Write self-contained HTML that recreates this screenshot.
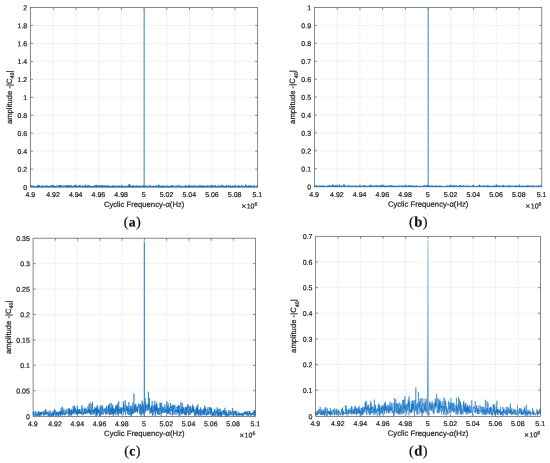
<!DOCTYPE html>
<html><head><meta charset="utf-8"><title>Figure</title>
<style>
html,body{margin:0;padding:0;background:#fff;}
body{width:550px;height:463px;overflow:hidden;}
svg{display:block;text-rendering:geometricPrecision;}
.t{font-family:"Liberation Sans",Arial,Helvetica,sans-serif;font-size:7.0px;fill:#262626;stroke:#262626;stroke-width:0.22px;}
.l{font-size:7.7px;}
.c{font-family:"Liberation Serif","Times New Roman",serif;font-size:14.4px;fill:#111;stroke:#111;stroke-width:0.2px;}
</style></head><body>
<svg width="550" height="463" viewBox="0 0 550 463">
<rect width="550" height="463" fill="#fff"/>
<g>
<line x1="53.30" y1="7.50" x2="53.30" y2="187.20" stroke="#ececec" stroke-width="0.7"/>
<line x1="76.01" y1="7.50" x2="76.01" y2="187.20" stroke="#ececec" stroke-width="0.7"/>
<line x1="98.72" y1="7.50" x2="98.72" y2="187.20" stroke="#ececec" stroke-width="0.7"/>
<line x1="121.42" y1="7.50" x2="121.42" y2="187.20" stroke="#ececec" stroke-width="0.7"/>
<line x1="144.12" y1="7.50" x2="144.12" y2="187.20" stroke="#ececec" stroke-width="0.7"/>
<line x1="166.83" y1="7.50" x2="166.83" y2="187.20" stroke="#ececec" stroke-width="0.7"/>
<line x1="189.53" y1="7.50" x2="189.53" y2="187.20" stroke="#ececec" stroke-width="0.7"/>
<line x1="212.24" y1="7.50" x2="212.24" y2="187.20" stroke="#ececec" stroke-width="0.7"/>
<line x1="234.94" y1="7.50" x2="234.94" y2="187.20" stroke="#ececec" stroke-width="0.7"/>
<line x1="30.60" y1="169.14" x2="257.65" y2="169.14" stroke="#ececec" stroke-width="0.7"/>
<line x1="30.60" y1="151.18" x2="257.65" y2="151.18" stroke="#ececec" stroke-width="0.7"/>
<line x1="30.60" y1="133.22" x2="257.65" y2="133.22" stroke="#ececec" stroke-width="0.7"/>
<line x1="30.60" y1="115.26" x2="257.65" y2="115.26" stroke="#ececec" stroke-width="0.7"/>
<line x1="30.60" y1="97.30" x2="257.65" y2="97.30" stroke="#ececec" stroke-width="0.7"/>
<line x1="30.60" y1="79.34" x2="257.65" y2="79.34" stroke="#ececec" stroke-width="0.7"/>
<line x1="30.60" y1="61.38" x2="257.65" y2="61.38" stroke="#ececec" stroke-width="0.7"/>
<line x1="30.60" y1="43.42" x2="257.65" y2="43.42" stroke="#ececec" stroke-width="0.7"/>
<line x1="30.60" y1="25.46" x2="257.65" y2="25.46" stroke="#ececec" stroke-width="0.7"/>
<rect x="30.60" y="7.50" width="227.05" height="179.70" fill="none" stroke="#606060" stroke-width="0.75"/>
<text class="t" x="30.30" y="197.00" transform="rotate(0.05 30.30 197.00)" text-anchor="middle">4.9</text>
<line x1="53.30" y1="187.20" x2="53.30" y2="184.70" stroke="#606060" stroke-width="0.7"/>
<line x1="53.30" y1="7.50" x2="53.30" y2="10.00" stroke="#606060" stroke-width="0.7"/>
<text class="t" x="53.01" y="197.00" transform="rotate(0.05 53.01 197.00)" text-anchor="middle">4.92</text>
<line x1="76.01" y1="187.20" x2="76.01" y2="184.70" stroke="#606060" stroke-width="0.7"/>
<line x1="76.01" y1="7.50" x2="76.01" y2="10.00" stroke="#606060" stroke-width="0.7"/>
<text class="t" x="75.71" y="197.00" transform="rotate(0.05 75.71 197.00)" text-anchor="middle">4.94</text>
<line x1="98.72" y1="187.20" x2="98.72" y2="184.70" stroke="#606060" stroke-width="0.7"/>
<line x1="98.72" y1="7.50" x2="98.72" y2="10.00" stroke="#606060" stroke-width="0.7"/>
<text class="t" x="98.42" y="197.00" transform="rotate(0.05 98.42 197.00)" text-anchor="middle">4.96</text>
<line x1="121.42" y1="187.20" x2="121.42" y2="184.70" stroke="#606060" stroke-width="0.7"/>
<line x1="121.42" y1="7.50" x2="121.42" y2="10.00" stroke="#606060" stroke-width="0.7"/>
<text class="t" x="121.12" y="197.00" transform="rotate(0.05 121.12 197.00)" text-anchor="middle">4.98</text>
<line x1="144.12" y1="187.20" x2="144.12" y2="184.70" stroke="#606060" stroke-width="0.7"/>
<line x1="144.12" y1="7.50" x2="144.12" y2="10.00" stroke="#606060" stroke-width="0.7"/>
<text class="t" x="143.82" y="197.00" transform="rotate(0.05 143.82 197.00)" text-anchor="middle">5</text>
<line x1="166.83" y1="187.20" x2="166.83" y2="184.70" stroke="#606060" stroke-width="0.7"/>
<line x1="166.83" y1="7.50" x2="166.83" y2="10.00" stroke="#606060" stroke-width="0.7"/>
<text class="t" x="166.53" y="197.00" transform="rotate(0.05 166.53 197.00)" text-anchor="middle">5.02</text>
<line x1="189.53" y1="187.20" x2="189.53" y2="184.70" stroke="#606060" stroke-width="0.7"/>
<line x1="189.53" y1="7.50" x2="189.53" y2="10.00" stroke="#606060" stroke-width="0.7"/>
<text class="t" x="189.23" y="197.00" transform="rotate(0.05 189.23 197.00)" text-anchor="middle">5.04</text>
<line x1="212.24" y1="187.20" x2="212.24" y2="184.70" stroke="#606060" stroke-width="0.7"/>
<line x1="212.24" y1="7.50" x2="212.24" y2="10.00" stroke="#606060" stroke-width="0.7"/>
<text class="t" x="211.94" y="197.00" transform="rotate(0.05 211.94 197.00)" text-anchor="middle">5.06</text>
<line x1="234.94" y1="187.20" x2="234.94" y2="184.70" stroke="#606060" stroke-width="0.7"/>
<line x1="234.94" y1="7.50" x2="234.94" y2="10.00" stroke="#606060" stroke-width="0.7"/>
<text class="t" x="234.64" y="197.00" transform="rotate(0.05 234.64 197.00)" text-anchor="middle">5.08</text>
<text class="t" x="257.35" y="197.00" transform="rotate(0.05 257.35 197.00)" text-anchor="middle">5.1</text>
<text class="t" x="27.25" y="189.95" transform="rotate(0.05 27.25 189.95)" text-anchor="end">0</text>
<line x1="30.60" y1="169.14" x2="33.10" y2="169.14" stroke="#606060" stroke-width="0.7"/>
<line x1="257.65" y1="169.14" x2="255.15" y2="169.14" stroke="#606060" stroke-width="0.7"/>
<text class="t" x="27.25" y="171.89" transform="rotate(0.05 27.25 171.89)" text-anchor="end">0.2</text>
<line x1="30.60" y1="151.18" x2="33.10" y2="151.18" stroke="#606060" stroke-width="0.7"/>
<line x1="257.65" y1="151.18" x2="255.15" y2="151.18" stroke="#606060" stroke-width="0.7"/>
<text class="t" x="27.25" y="153.93" transform="rotate(0.05 27.25 153.93)" text-anchor="end">0.4</text>
<line x1="30.60" y1="133.22" x2="33.10" y2="133.22" stroke="#606060" stroke-width="0.7"/>
<line x1="257.65" y1="133.22" x2="255.15" y2="133.22" stroke="#606060" stroke-width="0.7"/>
<text class="t" x="27.25" y="135.97" transform="rotate(0.05 27.25 135.97)" text-anchor="end">0.6</text>
<line x1="30.60" y1="115.26" x2="33.10" y2="115.26" stroke="#606060" stroke-width="0.7"/>
<line x1="257.65" y1="115.26" x2="255.15" y2="115.26" stroke="#606060" stroke-width="0.7"/>
<text class="t" x="27.25" y="118.01" transform="rotate(0.05 27.25 118.01)" text-anchor="end">0.8</text>
<line x1="30.60" y1="97.30" x2="33.10" y2="97.30" stroke="#606060" stroke-width="0.7"/>
<line x1="257.65" y1="97.30" x2="255.15" y2="97.30" stroke="#606060" stroke-width="0.7"/>
<text class="t" x="27.25" y="100.05" transform="rotate(0.05 27.25 100.05)" text-anchor="end">1</text>
<line x1="30.60" y1="79.34" x2="33.10" y2="79.34" stroke="#606060" stroke-width="0.7"/>
<line x1="257.65" y1="79.34" x2="255.15" y2="79.34" stroke="#606060" stroke-width="0.7"/>
<text class="t" x="27.25" y="82.09" transform="rotate(0.05 27.25 82.09)" text-anchor="end">1.2</text>
<line x1="30.60" y1="61.38" x2="33.10" y2="61.38" stroke="#606060" stroke-width="0.7"/>
<line x1="257.65" y1="61.38" x2="255.15" y2="61.38" stroke="#606060" stroke-width="0.7"/>
<text class="t" x="27.25" y="64.13" transform="rotate(0.05 27.25 64.13)" text-anchor="end">1.4</text>
<line x1="30.60" y1="43.42" x2="33.10" y2="43.42" stroke="#606060" stroke-width="0.7"/>
<line x1="257.65" y1="43.42" x2="255.15" y2="43.42" stroke="#606060" stroke-width="0.7"/>
<text class="t" x="27.25" y="46.17" transform="rotate(0.05 27.25 46.17)" text-anchor="end">1.6</text>
<line x1="30.60" y1="25.46" x2="33.10" y2="25.46" stroke="#606060" stroke-width="0.7"/>
<line x1="257.65" y1="25.46" x2="255.15" y2="25.46" stroke="#606060" stroke-width="0.7"/>
<text class="t" x="27.25" y="28.21" transform="rotate(0.05 27.25 28.21)" text-anchor="end">1.8</text>
<text class="t" x="27.25" y="10.25" transform="rotate(0.05 27.25 10.25)" text-anchor="end">2</text>
<polyline fill="none" stroke="#0d6cc0" stroke-width="0.80" stroke-linejoin="round" points="30.60,185.63 30.77,186.14 30.95,187.02 31.12,186.26 31.30,185.85 31.47,186.11 31.65,185.59 31.82,186.47 32.00,186.18 32.17,186.76 32.35,185.68 32.52,185.91 32.70,186.91 32.87,187.07 33.05,186.13 33.22,186.78 33.40,186.67 33.57,186.71 33.75,186.73 33.92,186.44 34.10,186.74 34.27,185.83 34.45,186.08 34.62,186.35 34.79,185.92 34.97,186.90 35.14,186.96 35.32,186.68 35.49,186.99 35.67,186.49 35.84,187.08 36.02,187.16 36.19,186.63 36.37,186.85 36.54,187.07 36.72,186.86 36.89,186.68 37.07,186.74 37.24,185.78 37.42,186.39 37.59,187.02 37.77,187.11 37.94,187.06 38.12,184.85 38.29,186.58 38.47,186.23 38.64,186.54 38.82,185.42 38.99,186.81 39.16,186.03 39.34,186.01 39.51,187.07 39.69,185.58 39.86,186.99 40.04,186.38 40.21,186.13 40.39,186.06 40.56,186.23 40.74,186.57 40.91,186.17 41.09,186.96 41.26,186.04 41.44,186.55 41.61,186.65 41.79,186.53 41.96,186.59 42.14,186.13 42.31,185.86 42.49,185.35 42.66,186.26 42.84,186.63 43.01,187.22 43.18,186.59 43.36,185.86 43.53,186.04 43.71,185.99 43.88,186.66 44.06,186.27 44.23,186.64 44.41,186.38 44.58,186.97 44.76,186.70 44.93,185.75 45.11,186.57 45.28,186.63 45.46,186.65 45.63,186.81 45.81,185.81 45.98,186.68 46.16,186.11 46.33,185.86 46.51,186.15 46.68,186.90 46.86,185.55 47.03,185.35 47.20,186.43 47.38,186.40 47.55,186.64 47.73,186.86 47.90,186.41 48.08,187.14 48.25,185.82 48.43,186.59 48.60,186.48 48.78,186.59 48.95,186.78 49.13,186.35 49.30,186.29 49.48,186.98 49.65,186.87 49.83,186.56 50.00,186.38 50.18,186.16 50.35,186.64 50.53,185.70 50.70,186.67 50.88,186.55 51.05,185.53 51.23,185.44 51.40,186.37 51.57,186.30 51.75,186.93 51.92,185.93 52.10,185.38 52.27,186.37 52.45,186.04 52.62,185.21 52.80,186.49 52.97,186.86 53.15,186.31 53.32,186.37 53.50,186.89 53.67,186.81 53.85,186.51 54.02,186.19 54.20,187.22 54.37,186.02 54.55,186.80 54.72,186.00 54.90,186.55 55.07,185.85 55.25,186.90 55.42,186.25 55.59,186.33 55.77,186.34 55.94,185.77 56.12,186.49 56.29,186.46 56.47,186.47 56.64,186.35 56.82,186.69 56.99,186.06 57.17,186.19 57.34,185.42 57.52,186.60 57.69,186.34 57.87,186.31 58.04,186.24 58.22,186.87 58.39,186.42 58.57,186.40 58.74,186.82 58.92,186.49 59.09,185.17 59.27,186.44 59.44,186.39 59.61,185.56 59.79,186.69 59.96,185.18 60.14,185.33 60.31,186.60 60.49,186.23 60.66,185.17 60.84,186.38 61.01,186.52 61.19,187.04 61.36,185.64 61.54,186.79 61.71,185.86 61.89,186.73 62.06,186.80 62.24,186.62 62.41,186.38 62.59,186.02 62.76,186.93 62.94,186.41 63.11,186.49 63.29,186.36 63.46,186.40 63.63,185.24 63.81,185.69 63.98,185.80 64.16,185.61 64.33,186.14 64.51,186.14 64.68,186.60 64.86,186.38 65.03,186.60 65.21,185.71 65.38,185.85 65.56,186.41 65.73,186.32 65.91,187.12 66.08,185.17 66.26,186.64 66.43,186.34 66.61,186.55 66.78,186.32 66.96,186.93 67.13,185.41 67.31,187.08 67.48,186.68 67.66,186.14 67.83,187.26 68.00,186.79 68.18,186.30 68.35,185.70 68.53,186.98 68.70,185.48 68.88,186.78 69.05,185.79 69.23,186.38 69.40,185.75 69.58,186.75 69.75,186.84 69.93,185.23 70.10,186.98 70.28,186.54 70.45,186.85 70.63,186.69 70.80,186.32 70.98,185.65 71.15,185.34 71.33,185.28 71.50,186.95 71.68,186.86 71.85,186.78 72.02,187.23 72.20,186.04 72.37,185.87 72.55,186.52 72.72,186.50 72.90,186.83 73.07,186.51 73.25,186.92 73.42,186.20 73.60,186.48 73.77,186.92 73.95,185.68 74.12,186.37 74.30,186.26 74.47,186.53 74.65,185.73 74.82,185.51 75.00,186.61 75.17,186.97 75.35,184.89 75.52,186.21 75.70,185.54 75.87,187.01 76.04,186.80 76.22,186.17 76.39,186.32 76.57,186.98 76.74,186.46 76.92,186.08 77.09,186.17 77.27,186.58 77.44,186.68 77.62,186.05 77.79,185.56 77.97,185.85 78.14,186.28 78.32,186.22 78.49,186.36 78.67,187.00 78.84,186.58 79.02,185.69 79.19,187.06 79.37,185.95 79.54,186.67 79.72,185.64 79.89,186.82 80.07,185.00 80.24,186.48 80.41,186.71 80.59,186.53 80.76,186.57 80.94,186.45 81.11,186.71 81.29,186.20 81.46,186.93 81.64,186.07 81.81,186.66 81.99,186.12 82.16,186.06 82.34,186.27 82.51,186.22 82.69,186.38 82.86,186.50 83.04,185.49 83.21,186.37 83.39,186.81 83.56,186.87 83.74,186.69 83.91,185.71 84.09,186.12 84.26,187.11 84.43,186.38 84.61,186.95 84.78,185.92 84.96,186.52 85.13,185.78 85.31,187.12 85.48,184.73 85.66,185.70 85.83,185.39 86.01,186.60 86.18,187.13 86.36,187.02 86.53,186.95 86.71,186.57 86.88,186.44 87.06,186.56 87.23,186.47 87.41,185.57 87.58,187.18 87.76,185.78 87.93,186.41 88.11,185.94 88.28,186.23 88.45,186.10 88.63,187.03 88.80,184.96 88.98,185.83 89.15,186.90 89.33,186.30 89.50,186.40 89.68,185.99 89.85,186.18 90.03,186.88 90.20,185.84 90.38,186.65 90.55,186.31 90.73,186.02 90.90,186.26 91.08,186.74 91.25,186.89 91.43,186.27 91.60,186.66 91.78,185.99 91.95,186.04 92.13,186.33 92.30,186.20 92.48,186.99 92.65,186.57 92.82,186.55 93.00,186.80 93.17,186.35 93.35,187.22 93.52,186.54 93.70,186.24 93.87,186.06 94.05,186.49 94.22,186.94 94.40,185.82 94.57,186.41 94.75,185.46 94.92,185.93 95.10,186.61 95.27,186.86 95.45,186.76 95.62,186.25 95.80,186.18 95.97,185.12 96.15,186.52 96.32,184.85 96.50,187.17 96.67,185.96 96.84,185.77 97.02,186.16 97.19,186.78 97.37,186.02 97.54,186.31 97.72,185.71 97.89,187.02 98.07,186.50 98.24,186.84 98.42,186.06 98.59,186.95 98.77,186.15 98.94,185.59 99.12,185.83 99.29,186.39 99.47,186.88 99.64,186.34 99.82,186.03 99.99,185.84 100.17,186.49 100.34,185.43 100.52,186.31 100.69,186.68 100.86,186.65 101.04,186.04 101.21,186.95 101.39,186.42 101.56,185.84 101.74,187.09 101.91,185.29 102.09,185.53 102.26,186.93 102.44,185.23 102.61,185.71 102.79,185.73 102.96,186.05 103.14,186.16 103.31,187.18 103.49,186.10 103.66,186.67 103.84,185.74 104.01,187.05 104.19,185.78 104.36,186.85 104.54,186.16 104.71,185.49 104.89,186.10 105.06,186.50 105.23,186.49 105.41,186.31 105.58,187.18 105.76,185.91 105.93,185.95 106.11,185.86 106.28,186.88 106.46,186.12 106.63,186.64 106.81,186.42 106.98,186.20 107.16,186.24 107.33,185.05 107.51,186.56 107.68,185.94 107.86,186.85 108.03,185.99 108.21,186.95 108.38,186.47 108.56,187.11 108.73,186.00 108.91,185.80 109.08,185.81 109.25,186.65 109.43,185.80 109.60,186.07 109.78,187.07 109.95,186.08 110.13,186.56 110.30,186.74 110.48,186.08 110.65,187.28 110.83,186.36 111.00,186.69 111.18,186.96 111.35,186.17 111.53,186.39 111.70,186.64 111.88,186.57 112.05,186.11 112.23,185.59 112.40,185.94 112.58,187.01 112.75,186.24 112.93,186.89 113.10,187.03 113.27,185.60 113.45,187.14 113.62,187.11 113.80,185.89 113.97,186.73 114.15,186.09 114.32,186.66 114.50,185.85 114.67,186.93 114.85,186.72 115.02,186.33 115.20,185.91 115.37,186.39 115.55,186.06 115.72,185.71 115.90,185.74 116.07,187.06 116.25,186.59 116.42,186.43 116.60,186.70 116.77,186.35 116.95,186.62 117.12,186.72 117.29,185.66 117.47,185.56 117.64,186.68 117.82,186.10 117.99,186.14 118.17,186.21 118.34,187.16 118.52,186.08 118.69,187.04 118.87,186.45 119.04,186.83 119.22,185.92 119.39,186.39 119.57,186.14 119.74,185.61 119.92,186.76 120.09,186.66 120.27,186.86 120.44,186.38 120.62,186.47 120.79,186.97 120.97,186.39 121.14,186.21 121.32,185.79 121.49,185.87 121.66,187.21 121.84,186.54 122.01,185.57 122.19,185.77 122.36,186.03 122.54,185.95 122.71,187.13 122.89,186.44 123.06,185.95 123.24,185.80 123.41,187.09 123.59,186.56 123.76,186.60 123.94,186.86 124.11,187.06 124.29,186.16 124.46,186.77 124.64,186.29 124.81,186.12 124.99,187.15 125.16,187.10 125.34,186.63 125.51,186.15 125.68,186.17 125.86,186.06 126.03,186.89 126.21,185.94 126.38,185.99 126.56,186.51 126.73,186.89 126.91,186.67 127.08,186.13 127.26,186.46 127.43,186.99 127.61,186.13 127.78,185.90 127.96,185.54 128.13,187.04 128.31,186.49 128.48,186.05 128.66,186.97 128.83,184.83 129.01,186.31 129.18,186.60 129.36,184.00 129.53,186.24 129.70,186.78 129.88,186.69 130.05,186.84 130.23,186.76 130.40,186.45 130.58,186.58 130.75,185.34 130.93,186.75 131.10,186.46 131.28,186.07 131.45,186.29 131.63,187.01 131.80,186.13 131.98,186.24 132.15,187.24 132.33,186.68 132.50,186.24 132.68,185.92 132.85,186.77 133.03,185.43 133.20,187.18 133.38,186.78 133.55,185.90 133.73,187.28 133.90,186.78 134.07,186.54 134.25,185.67 134.42,185.89 134.60,185.91 134.77,186.29 134.95,186.15 135.12,186.53 135.30,185.95 135.47,186.60 135.65,185.90 135.82,186.94 136.00,186.99 136.17,186.60 136.35,187.00 136.52,186.42 136.70,186.47 136.87,186.48 137.05,185.10 137.22,186.30 137.40,186.16 137.57,186.36 137.75,187.07 137.92,186.19 138.09,186.97 138.27,186.04 138.44,186.60 138.62,186.33 138.79,187.10 138.97,186.52 139.14,186.00 139.32,185.93 139.49,186.92 139.67,186.21 139.84,186.64 140.02,185.63 140.19,186.78 140.37,186.36 140.54,186.64 140.72,186.11 140.89,186.40 141.07,186.48 141.24,187.04 141.42,186.44 141.59,186.39 141.77,186.88 141.94,186.14 142.11,186.95 142.29,186.86 142.46,185.70 142.64,185.84 142.81,185.78 142.99,186.15 143.16,186.94 143.34,186.33 143.51,186.06 143.69,186.70 143.86,185.56 144.04,187.00 144.21,187.00 144.39,186.24 144.56,185.80 144.74,186.05 144.91,186.52 145.09,186.39 145.26,186.00 145.44,185.91 145.61,186.99 145.79,186.76 145.96,186.88 146.14,185.57 146.31,185.93 146.48,186.79 146.66,186.13 146.83,187.00 147.01,187.11 147.18,185.90 147.36,186.52 147.53,186.65 147.71,186.29 147.88,186.50 148.06,186.59 148.23,186.30 148.41,185.87 148.58,186.05 148.76,186.25 148.93,186.33 149.11,186.79 149.28,186.49 149.46,186.62 149.63,185.81 149.81,186.41 149.98,184.93 150.16,185.58 150.33,186.49 150.50,186.29 150.68,186.47 150.85,186.06 151.03,186.64 151.20,186.94 151.38,186.60 151.55,186.97 151.73,186.23 151.90,186.92 152.08,186.96 152.25,186.15 152.43,185.92 152.60,186.71 152.78,186.36 152.95,186.95 153.13,186.06 153.30,186.83 153.48,185.86 153.65,185.93 153.83,186.71 154.00,186.74 154.18,186.01 154.35,186.93 154.52,186.50 154.70,186.62 154.87,186.15 155.05,186.22 155.22,186.81 155.40,186.66 155.57,185.87 155.75,186.29 155.92,185.60 156.10,186.59 156.27,186.96 156.45,185.87 156.62,186.13 156.80,185.84 156.97,186.86 157.15,185.88 157.32,186.66 157.50,186.79 157.67,186.60 157.85,186.21 158.02,186.10 158.20,186.22 158.37,186.40 158.55,184.62 158.72,186.77 158.89,186.21 159.07,186.98 159.24,186.40 159.42,186.42 159.59,185.62 159.77,186.88 159.94,186.55 160.12,186.05 160.29,186.42 160.47,186.67 160.64,186.32 160.82,187.20 160.99,186.54 161.17,186.39 161.34,185.92 161.52,187.12 161.69,185.86 161.87,186.90 162.04,185.89 162.22,186.42 162.39,186.44 162.57,187.13 162.74,186.28 162.91,187.20 163.09,186.93 163.26,186.76 163.44,185.50 163.61,186.69 163.79,186.60 163.96,185.63 164.14,186.46 164.31,186.10 164.49,186.31 164.66,186.71 164.84,186.20 165.01,186.43 165.19,186.20 165.36,186.23 165.54,186.25 165.71,186.80 165.89,186.19 166.06,186.53 166.24,186.86 166.41,187.03 166.59,186.16 166.76,186.15 166.93,185.96 167.11,186.40 167.28,186.62 167.46,186.00 167.63,186.08 167.81,186.07 167.98,187.13 168.16,186.72 168.33,187.21 168.51,185.95 168.68,186.28 168.86,186.39 169.03,186.61 169.21,186.47 169.38,186.13 169.56,186.84 169.73,186.14 169.91,185.88 170.08,186.39 170.26,187.07 170.43,186.29 170.61,186.11 170.78,186.65 170.96,186.17 171.13,186.61 171.30,186.98 171.48,186.77 171.65,185.29 171.83,186.07 172.00,185.69 172.18,187.07 172.35,186.90 172.53,186.78 172.70,186.76 172.88,185.28 173.05,186.61 173.23,186.12 173.40,186.28 173.58,185.93 173.75,186.84 173.93,186.63 174.10,186.13 174.28,186.67 174.45,186.91 174.63,186.62 174.80,186.60 174.98,186.50 175.15,186.56 175.32,186.43 175.50,186.55 175.67,185.59 175.85,186.39 176.02,186.57 176.20,186.78 176.37,186.83 176.55,186.27 176.72,185.81 176.90,186.73 177.07,186.44 177.25,186.32 177.42,185.71 177.60,185.61 177.77,186.40 177.95,186.48 178.12,186.41 178.30,185.30 178.47,186.62 178.65,186.66 178.82,186.61 179.00,186.19 179.17,186.37 179.34,186.48 179.52,185.90 179.69,186.20 179.87,185.75 180.04,185.23 180.22,186.22 180.39,186.09 180.57,186.37 180.74,187.13 180.92,187.00 181.09,186.50 181.27,186.56 181.44,186.59 181.62,187.21 181.79,187.10 181.97,186.27 182.14,186.74 182.32,186.57 182.49,186.31 182.67,186.18 182.84,186.26 183.02,185.71 183.19,185.85 183.36,186.17 183.54,186.36 183.71,186.34 183.89,187.01 184.06,186.47 184.24,186.31 184.41,186.42 184.59,186.04 184.76,186.81 184.94,186.44 185.11,187.02 185.29,186.40 185.46,187.20 185.64,185.41 185.81,186.46 185.99,187.02 186.16,186.46 186.34,186.93 186.51,185.64 186.69,185.64 186.86,186.50 187.04,186.37 187.21,186.66 187.39,186.36 187.56,186.03 187.73,186.47 187.91,187.17 188.08,186.76 188.26,186.16 188.43,186.24 188.61,186.65 188.78,186.77 188.96,185.60 189.13,187.19 189.31,185.60 189.48,186.76 189.66,185.50 189.83,186.01 190.01,186.95 190.18,186.53 190.36,186.38 190.53,186.27 190.71,185.93 190.88,186.69 191.06,186.75 191.23,186.36 191.41,185.71 191.58,186.84 191.75,185.92 191.93,186.34 192.10,186.87 192.28,186.75 192.45,187.04 192.63,186.65 192.80,186.02 192.98,186.97 193.15,185.69 193.33,186.25 193.50,187.08 193.68,186.30 193.85,185.37 194.03,185.54 194.20,186.15 194.38,186.17 194.55,186.06 194.73,185.70 194.90,186.18 195.08,187.02 195.25,185.99 195.43,185.67 195.60,186.58 195.77,186.73 195.95,186.98 196.12,186.46 196.30,186.02 196.47,186.79 196.65,186.38 196.82,186.74 197.00,186.35 197.17,185.77 197.35,186.44 197.52,186.81 197.70,186.00 197.87,186.08 198.05,186.02 198.22,185.91 198.40,186.71 198.57,186.48 198.75,186.27 198.92,185.88 199.10,186.83 199.27,186.74 199.45,186.39 199.62,186.27 199.80,185.15 199.97,187.09 200.14,186.78 200.32,186.89 200.49,186.69 200.67,185.76 200.84,185.57 201.02,186.62 201.19,185.79 201.37,186.79 201.54,185.79 201.72,187.03 201.89,186.49 202.07,187.04 202.24,186.28 202.42,186.92 202.59,185.87 202.77,186.94 202.94,186.39 203.12,185.57 203.29,187.22 203.47,186.95 203.64,186.75 203.82,186.97 203.99,186.06 204.16,186.24 204.34,185.81 204.51,186.95 204.69,186.09 204.86,186.53 205.04,185.93 205.21,186.61 205.39,186.74 205.56,185.92 205.74,186.45 205.91,186.66 206.09,186.69 206.26,187.10 206.44,186.87 206.61,186.16 206.79,186.40 206.96,185.86 207.14,186.34 207.31,185.66 207.49,186.62 207.66,186.12 207.84,185.30 208.01,186.91 208.18,186.17 208.36,185.86 208.53,185.91 208.71,186.55 208.88,186.52 209.06,186.44 209.23,186.59 209.41,186.85 209.58,186.42 209.76,185.89 209.93,186.14 210.11,185.52 210.28,186.07 210.46,187.12 210.63,186.14 210.81,186.77 210.98,185.93 211.16,187.00 211.33,185.86 211.51,185.87 211.68,185.11 211.86,187.03 212.03,186.52 212.21,186.78 212.38,186.03 212.55,186.04 212.73,186.51 212.90,186.01 213.08,186.22 213.25,186.58 213.43,186.44 213.60,185.66 213.78,185.82 213.95,185.97 214.13,186.98 214.30,187.08 214.48,186.37 214.65,186.99 214.83,185.54 215.00,185.32 215.18,186.67 215.35,185.51 215.53,186.62 215.70,186.29 215.88,187.01 216.05,186.43 216.23,186.38 216.40,186.65 216.57,187.20 216.75,186.68 216.92,186.80 217.10,186.61 217.27,186.51 217.45,186.70 217.62,186.27 217.80,186.41 217.97,185.83 218.15,185.26 218.32,185.55 218.50,187.12 218.67,185.96 218.85,185.91 219.02,186.36 219.20,186.32 219.37,186.32 219.55,186.71 219.72,186.68 219.90,186.40 220.07,185.53 220.25,186.70 220.42,187.02 220.59,186.63 220.77,186.69 220.94,186.19 221.12,185.82 221.29,186.03 221.47,186.20 221.64,186.62 221.82,186.87 221.99,184.78 222.17,186.28 222.34,186.09 222.52,186.08 222.69,186.50 222.87,186.94 223.04,185.40 223.22,186.03 223.39,186.80 223.57,186.63 223.74,187.02 223.92,186.31 224.09,186.27 224.27,186.67 224.44,185.92 224.62,186.79 224.79,186.12 224.96,185.92 225.14,186.88 225.31,186.18 225.49,186.61 225.66,186.15 225.84,186.61 226.01,187.15 226.19,185.37 226.36,186.53 226.54,186.04 226.71,185.48 226.89,186.18 227.06,185.95 227.24,186.40 227.41,186.92 227.59,186.44 227.76,186.46 227.94,186.96 228.11,186.48 228.29,186.43 228.46,185.25 228.64,186.64 228.81,186.70 228.98,186.90 229.16,186.60 229.33,186.55 229.51,186.73 229.68,186.11 229.86,186.33 230.03,186.93 230.21,185.41 230.38,186.88 230.56,186.64 230.73,186.04 230.91,187.04 231.08,187.09 231.26,187.02 231.43,186.85 231.61,187.17 231.78,186.89 231.96,185.83 232.13,185.59 232.31,187.00 232.48,186.39 232.66,186.80 232.83,186.05 233.00,185.89 233.18,186.11 233.35,186.04 233.53,186.43 233.70,187.24 233.88,186.49 234.05,186.19 234.23,186.56 234.40,186.84 234.58,187.04 234.75,185.64 234.93,185.99 235.10,185.89 235.28,185.57 235.45,186.43 235.63,185.84 235.80,185.91 235.98,186.43 236.15,186.83 236.33,186.80 236.50,186.75 236.68,186.40 236.85,186.82 237.02,186.58 237.20,186.59 237.37,186.11 237.55,186.69 237.72,186.66 237.90,185.67 238.07,186.84 238.25,186.27 238.42,186.91 238.60,186.73 238.77,185.39 238.95,186.76 239.12,187.11 239.30,185.93 239.47,186.97 239.65,187.19 239.82,186.71 240.00,186.26 240.17,186.93 240.35,186.57 240.52,186.46 240.70,186.64 240.87,186.39 241.05,186.72 241.22,186.11 241.39,185.23 241.57,186.44 241.74,186.25 241.92,185.60 242.09,186.04 242.27,186.10 242.44,186.91 242.62,186.02 242.79,186.92 242.97,187.00 243.14,186.71 243.32,186.91 243.49,186.22 243.67,186.81 243.84,186.47 244.02,186.30 244.19,186.56 244.37,186.67 244.54,186.17 244.72,186.51 244.89,186.90 245.07,186.26 245.24,186.67 245.41,184.58 245.59,185.77 245.76,186.08 245.94,185.40 246.11,186.40 246.29,185.70 246.46,186.88 246.64,186.95 246.81,186.87 246.99,186.21 247.16,186.17 247.34,186.48 247.51,187.17 247.69,186.41 247.86,186.61 248.04,185.60 248.21,186.07 248.39,186.25 248.56,185.57 248.74,187.04 248.91,187.17 249.09,186.36 249.26,185.93 249.43,185.82 249.61,186.52 249.78,187.02 249.96,186.64 250.13,185.78 250.31,185.57 250.48,187.07 250.66,186.53 250.83,186.82 251.01,186.40 251.18,185.49 251.36,186.60 251.53,186.66 251.71,187.09 251.88,186.34 252.06,186.58 252.23,186.72 252.41,186.75 252.58,186.89 252.76,187.09 252.93,187.09 253.11,186.29 253.28,185.97 253.46,186.28 253.63,185.46 253.80,186.06 253.98,186.21 254.15,185.49 254.33,185.78 254.50,186.27 254.68,186.23 254.85,186.21 255.03,186.53 255.20,186.10 255.38,186.74 255.55,186.24 255.73,186.35 255.90,186.15 256.08,186.33 256.25,186.58 256.43,187.02 256.60,186.13 256.78,186.01 256.95,186.69 257.13,185.52 257.30,186.44 257.48,186.35 257.65,186.20"/>
<line x1="144.22" y1="186.10" x2="144.22" y2="7.50" stroke="#65a6dd" stroke-width="1.35"/>
<text class="t l" x="144.12" y="206.95" transform="rotate(0.05 144.12 206.95)" text-anchor="middle">Cyclic Frequency-α(Hz)</text>
<text class="t" x="257.35" y="208.45" transform="rotate(0.05 257.35 208.45)" text-anchor="end"><tspan font-size="7.9" dy="0.3">×</tspan><tspan dx="0.6" dy="-0.3">10</tspan><tspan dy="-2.6" font-size="5.2">6</tspan></text>
<text class="t l" transform="translate(11.70,97.30) rotate(-90)" text-anchor="middle">amplitude -|C<tspan dy="2.3" font-size="5.4">40</tspan><tspan dy="-2.5">|</tspan></text>
<text class="c" x="132.30" y="226.60" transform="rotate(0.05 132.30 226.60)" text-anchor="middle">(<tspan font-weight="bold" dx="0.2" font-size="13.9">a</tspan><tspan dx="0.2">)</tspan></text>
</g>
<g>
<line x1="337.19" y1="7.50" x2="337.19" y2="186.80" stroke="#ececec" stroke-width="0.7"/>
<line x1="359.92" y1="7.50" x2="359.92" y2="186.80" stroke="#ececec" stroke-width="0.7"/>
<line x1="382.65" y1="7.50" x2="382.65" y2="186.80" stroke="#ececec" stroke-width="0.7"/>
<line x1="405.39" y1="7.50" x2="405.39" y2="186.80" stroke="#ececec" stroke-width="0.7"/>
<line x1="428.12" y1="7.50" x2="428.12" y2="186.80" stroke="#ececec" stroke-width="0.7"/>
<line x1="450.86" y1="7.50" x2="450.86" y2="186.80" stroke="#ececec" stroke-width="0.7"/>
<line x1="473.59" y1="7.50" x2="473.59" y2="186.80" stroke="#ececec" stroke-width="0.7"/>
<line x1="496.33" y1="7.50" x2="496.33" y2="186.80" stroke="#ececec" stroke-width="0.7"/>
<line x1="519.06" y1="7.50" x2="519.06" y2="186.80" stroke="#ececec" stroke-width="0.7"/>
<line x1="314.45" y1="168.78" x2="541.80" y2="168.78" stroke="#ececec" stroke-width="0.7"/>
<line x1="314.45" y1="150.86" x2="541.80" y2="150.86" stroke="#ececec" stroke-width="0.7"/>
<line x1="314.45" y1="132.94" x2="541.80" y2="132.94" stroke="#ececec" stroke-width="0.7"/>
<line x1="314.45" y1="115.02" x2="541.80" y2="115.02" stroke="#ececec" stroke-width="0.7"/>
<line x1="314.45" y1="97.10" x2="541.80" y2="97.10" stroke="#ececec" stroke-width="0.7"/>
<line x1="314.45" y1="79.18" x2="541.80" y2="79.18" stroke="#ececec" stroke-width="0.7"/>
<line x1="314.45" y1="61.26" x2="541.80" y2="61.26" stroke="#ececec" stroke-width="0.7"/>
<line x1="314.45" y1="43.34" x2="541.80" y2="43.34" stroke="#ececec" stroke-width="0.7"/>
<line x1="314.45" y1="25.42" x2="541.80" y2="25.42" stroke="#ececec" stroke-width="0.7"/>
<rect x="314.45" y="7.50" width="227.35" height="179.30" fill="none" stroke="#606060" stroke-width="0.75"/>
<text class="t" x="314.15" y="197.00" transform="rotate(0.05 314.15 197.00)" text-anchor="middle">4.9</text>
<line x1="337.19" y1="186.80" x2="337.19" y2="184.30" stroke="#606060" stroke-width="0.7"/>
<line x1="337.19" y1="7.50" x2="337.19" y2="10.00" stroke="#606060" stroke-width="0.7"/>
<text class="t" x="336.88" y="197.00" transform="rotate(0.05 336.88 197.00)" text-anchor="middle">4.92</text>
<line x1="359.92" y1="186.80" x2="359.92" y2="184.30" stroke="#606060" stroke-width="0.7"/>
<line x1="359.92" y1="7.50" x2="359.92" y2="10.00" stroke="#606060" stroke-width="0.7"/>
<text class="t" x="359.62" y="197.00" transform="rotate(0.05 359.62 197.00)" text-anchor="middle">4.94</text>
<line x1="382.65" y1="186.80" x2="382.65" y2="184.30" stroke="#606060" stroke-width="0.7"/>
<line x1="382.65" y1="7.50" x2="382.65" y2="10.00" stroke="#606060" stroke-width="0.7"/>
<text class="t" x="382.35" y="197.00" transform="rotate(0.05 382.35 197.00)" text-anchor="middle">4.96</text>
<line x1="405.39" y1="186.80" x2="405.39" y2="184.30" stroke="#606060" stroke-width="0.7"/>
<line x1="405.39" y1="7.50" x2="405.39" y2="10.00" stroke="#606060" stroke-width="0.7"/>
<text class="t" x="405.09" y="197.00" transform="rotate(0.05 405.09 197.00)" text-anchor="middle">4.98</text>
<line x1="428.12" y1="186.80" x2="428.12" y2="184.30" stroke="#606060" stroke-width="0.7"/>
<line x1="428.12" y1="7.50" x2="428.12" y2="10.00" stroke="#606060" stroke-width="0.7"/>
<text class="t" x="427.82" y="197.00" transform="rotate(0.05 427.82 197.00)" text-anchor="middle">5</text>
<line x1="450.86" y1="186.80" x2="450.86" y2="184.30" stroke="#606060" stroke-width="0.7"/>
<line x1="450.86" y1="7.50" x2="450.86" y2="10.00" stroke="#606060" stroke-width="0.7"/>
<text class="t" x="450.56" y="197.00" transform="rotate(0.05 450.56 197.00)" text-anchor="middle">5.02</text>
<line x1="473.59" y1="186.80" x2="473.59" y2="184.30" stroke="#606060" stroke-width="0.7"/>
<line x1="473.59" y1="7.50" x2="473.59" y2="10.00" stroke="#606060" stroke-width="0.7"/>
<text class="t" x="473.29" y="197.00" transform="rotate(0.05 473.29 197.00)" text-anchor="middle">5.04</text>
<line x1="496.33" y1="186.80" x2="496.33" y2="184.30" stroke="#606060" stroke-width="0.7"/>
<line x1="496.33" y1="7.50" x2="496.33" y2="10.00" stroke="#606060" stroke-width="0.7"/>
<text class="t" x="496.03" y="197.00" transform="rotate(0.05 496.03 197.00)" text-anchor="middle">5.06</text>
<line x1="519.06" y1="186.80" x2="519.06" y2="184.30" stroke="#606060" stroke-width="0.7"/>
<line x1="519.06" y1="7.50" x2="519.06" y2="10.00" stroke="#606060" stroke-width="0.7"/>
<text class="t" x="518.76" y="197.00" transform="rotate(0.05 518.76 197.00)" text-anchor="middle">5.08</text>
<text class="t" x="541.50" y="197.00" transform="rotate(0.05 541.50 197.00)" text-anchor="middle">5.1</text>
<text class="t" x="311.10" y="189.55" transform="rotate(0.05 311.10 189.55)" text-anchor="end">0</text>
<line x1="314.45" y1="168.78" x2="316.95" y2="168.78" stroke="#606060" stroke-width="0.7"/>
<line x1="541.80" y1="168.78" x2="539.30" y2="168.78" stroke="#606060" stroke-width="0.7"/>
<text class="t" x="311.10" y="171.53" transform="rotate(0.05 311.10 171.53)" text-anchor="end">0.1</text>
<line x1="314.45" y1="150.86" x2="316.95" y2="150.86" stroke="#606060" stroke-width="0.7"/>
<line x1="541.80" y1="150.86" x2="539.30" y2="150.86" stroke="#606060" stroke-width="0.7"/>
<text class="t" x="311.10" y="153.61" transform="rotate(0.05 311.10 153.61)" text-anchor="end">0.2</text>
<line x1="314.45" y1="132.94" x2="316.95" y2="132.94" stroke="#606060" stroke-width="0.7"/>
<line x1="541.80" y1="132.94" x2="539.30" y2="132.94" stroke="#606060" stroke-width="0.7"/>
<text class="t" x="311.10" y="135.69" transform="rotate(0.05 311.10 135.69)" text-anchor="end">0.3</text>
<line x1="314.45" y1="115.02" x2="316.95" y2="115.02" stroke="#606060" stroke-width="0.7"/>
<line x1="541.80" y1="115.02" x2="539.30" y2="115.02" stroke="#606060" stroke-width="0.7"/>
<text class="t" x="311.10" y="117.77" transform="rotate(0.05 311.10 117.77)" text-anchor="end">0.4</text>
<line x1="314.45" y1="97.10" x2="316.95" y2="97.10" stroke="#606060" stroke-width="0.7"/>
<line x1="541.80" y1="97.10" x2="539.30" y2="97.10" stroke="#606060" stroke-width="0.7"/>
<text class="t" x="311.10" y="99.85" transform="rotate(0.05 311.10 99.85)" text-anchor="end">0.5</text>
<line x1="314.45" y1="79.18" x2="316.95" y2="79.18" stroke="#606060" stroke-width="0.7"/>
<line x1="541.80" y1="79.18" x2="539.30" y2="79.18" stroke="#606060" stroke-width="0.7"/>
<text class="t" x="311.10" y="81.93" transform="rotate(0.05 311.10 81.93)" text-anchor="end">0.6</text>
<line x1="314.45" y1="61.26" x2="316.95" y2="61.26" stroke="#606060" stroke-width="0.7"/>
<line x1="541.80" y1="61.26" x2="539.30" y2="61.26" stroke="#606060" stroke-width="0.7"/>
<text class="t" x="311.10" y="64.01" transform="rotate(0.05 311.10 64.01)" text-anchor="end">0.7</text>
<line x1="314.45" y1="43.34" x2="316.95" y2="43.34" stroke="#606060" stroke-width="0.7"/>
<line x1="541.80" y1="43.34" x2="539.30" y2="43.34" stroke="#606060" stroke-width="0.7"/>
<text class="t" x="311.10" y="46.09" transform="rotate(0.05 311.10 46.09)" text-anchor="end">0.8</text>
<line x1="314.45" y1="25.42" x2="316.95" y2="25.42" stroke="#606060" stroke-width="0.7"/>
<line x1="541.80" y1="25.42" x2="539.30" y2="25.42" stroke="#606060" stroke-width="0.7"/>
<text class="t" x="311.10" y="28.17" transform="rotate(0.05 311.10 28.17)" text-anchor="end">0.9</text>
<text class="t" x="311.10" y="10.25" transform="rotate(0.05 311.10 10.25)" text-anchor="end">1</text>
<polyline fill="none" stroke="#0d6cc0" stroke-width="0.72" stroke-linejoin="round" points="314.45,186.48 314.63,186.46 314.80,186.07 314.98,185.69 315.15,186.25 315.33,186.75 315.50,186.28 315.68,185.66 315.85,186.57 316.03,186.49 316.20,186.25 316.38,185.34 316.55,185.09 316.73,186.09 316.90,186.18 317.08,186.76 317.25,186.02 317.43,185.80 317.60,186.24 317.78,186.52 317.95,186.42 318.13,186.56 318.30,186.33 318.48,186.69 318.65,186.14 318.83,186.69 319.00,186.63 319.18,186.05 319.35,186.26 319.53,186.01 319.70,186.62 319.88,185.38 320.05,185.57 320.23,186.48 320.40,186.34 320.58,185.83 320.75,186.15 320.93,186.14 321.10,186.56 321.28,186.05 321.45,186.72 321.63,186.12 321.80,185.83 321.98,185.30 322.15,185.63 322.33,186.75 322.50,186.10 322.68,186.48 322.85,186.78 323.03,186.52 323.20,185.86 323.38,186.78 323.55,185.92 323.73,186.16 323.90,185.96 324.08,185.88 324.25,186.81 324.43,186.26 324.60,185.71 324.78,186.21 324.95,186.49 325.13,186.37 325.30,186.31 325.48,186.35 325.65,185.99 325.83,186.43 326.00,186.18 326.18,186.42 326.35,186.09 326.53,186.14 326.70,186.38 326.88,186.11 327.05,186.62 327.23,186.51 327.40,186.43 327.58,185.57 327.75,185.57 327.93,186.44 328.10,186.16 328.28,186.13 328.45,186.25 328.63,186.51 328.80,185.39 328.98,185.33 329.15,186.10 329.33,186.41 329.50,185.32 329.68,185.37 329.85,186.71 330.03,186.03 330.20,186.27 330.38,186.27 330.55,186.46 330.73,185.77 330.90,186.19 331.08,185.75 331.25,185.99 331.43,186.45 331.60,185.88 331.78,185.88 331.95,185.91 332.13,186.05 332.30,186.61 332.48,184.60 332.65,185.98 332.83,185.08 333.00,185.42 333.18,185.67 333.35,186.81 333.53,186.76 333.70,185.44 333.88,186.42 334.05,186.66 334.23,186.60 334.40,186.51 334.58,185.79 334.75,186.70 334.93,186.72 335.10,185.17 335.28,186.24 335.45,186.50 335.63,185.80 335.80,186.06 335.98,186.35 336.15,186.13 336.33,185.49 336.50,186.14 336.68,186.56 336.85,185.84 337.03,186.20 337.20,186.60 337.38,186.27 337.55,186.56 337.73,185.59 337.90,186.66 338.08,186.03 338.25,186.10 338.43,186.11 338.60,185.82 338.78,186.38 338.95,186.22 339.13,186.70 339.30,186.31 339.48,186.02 339.65,184.52 339.83,185.64 340.00,185.39 340.18,186.79 340.35,186.06 340.53,186.18 340.70,186.14 340.88,186.18 341.05,186.58 341.23,186.11 341.40,186.20 341.58,186.35 341.75,185.90 341.93,186.65 342.10,185.62 342.28,186.58 342.45,186.05 342.63,186.02 342.80,186.73 342.98,186.50 343.15,186.44 343.33,186.17 343.50,186.07 343.68,185.84 343.85,184.30 344.03,186.09 344.20,184.78 344.38,186.06 344.55,186.32 344.73,185.99 344.90,186.32 345.08,186.48 345.25,186.36 345.43,186.59 345.60,186.76 345.78,185.66 345.95,185.84 346.13,186.21 346.30,186.27 346.48,185.81 346.65,185.99 346.83,185.98 347.00,186.33 347.18,186.72 347.35,186.35 347.53,186.24 347.70,186.06 347.88,185.87 348.05,185.50 348.23,186.39 348.40,186.32 348.58,185.11 348.75,186.30 348.93,186.13 349.10,186.02 349.28,186.45 349.45,186.49 349.63,186.81 349.80,186.46 349.98,185.65 350.15,185.63 350.33,186.43 350.50,186.02 350.68,186.09 350.85,186.63 351.03,186.50 351.20,185.89 351.38,186.38 351.55,186.73 351.73,186.50 351.90,186.64 352.08,185.95 352.25,186.29 352.43,186.24 352.60,186.28 352.78,186.42 352.95,186.23 353.13,185.34 353.30,186.40 353.48,186.34 353.65,186.15 353.83,186.37 354.00,185.92 354.18,186.09 354.35,185.98 354.53,186.06 354.70,186.37 354.88,185.97 355.05,186.47 355.23,185.95 355.40,186.30 355.58,186.57 355.75,185.81 355.93,185.25 356.10,186.29 356.28,186.61 356.45,186.23 356.63,185.91 356.80,186.59 356.98,186.48 357.15,186.07 357.33,186.16 357.50,186.46 357.68,186.34 357.85,186.17 358.03,186.75 358.20,186.09 358.38,186.29 358.55,186.52 358.73,186.36 358.90,185.83 359.08,186.06 359.25,186.37 359.43,186.56 359.60,186.20 359.78,185.32 359.96,185.70 360.13,185.92 360.31,186.70 360.48,186.51 360.66,186.75 360.83,186.61 361.01,186.46 361.18,186.71 361.36,186.44 361.53,185.94 361.71,186.33 361.88,185.97 362.06,185.75 362.23,186.35 362.41,186.64 362.58,186.47 362.76,186.00 362.93,185.75 363.11,185.55 363.28,186.65 363.46,185.39 363.63,186.26 363.81,186.11 363.98,186.27 364.16,185.56 364.33,186.44 364.51,186.52 364.68,186.21 364.86,186.38 365.03,185.83 365.21,185.84 365.38,186.41 365.56,185.49 365.73,186.50 365.91,186.71 366.08,186.40 366.26,186.50 366.43,186.55 366.61,186.17 366.78,186.68 366.96,186.08 367.13,185.83 367.31,186.63 367.48,186.35 367.66,186.48 367.83,186.47 368.01,186.77 368.18,186.22 368.36,186.13 368.53,185.73 368.71,186.03 368.88,186.35 369.06,185.88 369.23,186.31 369.41,186.65 369.58,185.73 369.76,186.13 369.93,186.72 370.11,185.80 370.28,186.42 370.46,186.08 370.63,184.79 370.81,186.22 370.98,186.06 371.16,186.18 371.33,186.28 371.51,185.74 371.68,186.48 371.86,186.78 372.03,185.56 372.21,186.11 372.38,186.00 372.56,186.18 372.73,186.56 372.91,185.98 373.08,186.57 373.26,186.15 373.43,185.88 373.61,185.79 373.78,186.41 373.96,185.84 374.13,186.09 374.31,186.20 374.48,186.20 374.66,185.68 374.83,186.33 375.01,185.98 375.18,185.41 375.36,185.71 375.53,186.23 375.71,186.24 375.88,186.03 376.06,185.69 376.23,186.41 376.41,185.80 376.58,185.82 376.76,186.45 376.93,186.35 377.11,186.43 377.28,185.13 377.46,185.89 377.63,186.55 377.81,186.42 377.98,186.67 378.16,186.29 378.33,186.61 378.51,186.08 378.68,185.75 378.86,186.46 379.03,186.59 379.21,186.01 379.38,186.59 379.56,185.76 379.73,186.66 379.91,185.76 380.08,186.09 380.26,186.68 380.43,186.30 380.61,186.09 380.78,185.16 380.96,186.09 381.13,185.29 381.31,186.07 381.48,186.49 381.66,186.35 381.83,186.21 382.01,185.73 382.18,186.51 382.36,186.07 382.53,186.31 382.71,185.54 382.88,186.00 383.06,185.91 383.23,185.05 383.41,185.66 383.58,186.19 383.76,186.64 383.93,185.94 384.11,186.18 384.28,186.03 384.46,186.53 384.63,185.73 384.81,186.31 384.98,186.52 385.16,185.87 385.33,186.05 385.51,186.67 385.68,186.40 385.86,185.71 386.03,186.83 386.21,185.79 386.38,186.49 386.56,186.15 386.73,186.01 386.91,185.87 387.08,186.68 387.26,186.30 387.43,186.75 387.61,186.51 387.78,186.37 387.96,185.98 388.13,186.68 388.31,186.32 388.48,186.72 388.66,185.58 388.83,186.55 389.01,185.84 389.18,185.59 389.36,186.49 389.53,186.02 389.71,185.93 389.88,186.43 390.06,186.43 390.23,185.60 390.41,186.54 390.58,186.67 390.76,186.51 390.93,186.15 391.11,184.99 391.28,186.06 391.46,185.89 391.63,186.07 391.81,186.43 391.98,186.23 392.16,186.41 392.33,185.97 392.51,186.63 392.68,186.63 392.86,186.25 393.03,186.31 393.21,185.33 393.38,186.84 393.56,185.96 393.73,185.89 393.91,185.93 394.08,186.49 394.26,186.31 394.43,186.35 394.61,186.67 394.78,186.22 394.96,186.69 395.13,186.41 395.31,185.93 395.48,186.40 395.66,185.55 395.83,186.63 396.01,186.45 396.18,186.58 396.36,186.06 396.53,186.03 396.71,186.55 396.88,186.00 397.06,186.22 397.23,185.96 397.41,186.18 397.58,186.10 397.76,186.14 397.93,185.73 398.11,185.87 398.28,186.42 398.46,186.21 398.63,186.25 398.81,186.64 398.98,185.72 399.16,186.39 399.33,185.80 399.51,186.02 399.68,186.19 399.86,185.75 400.03,185.80 400.21,186.18 400.38,186.28 400.56,185.75 400.73,185.94 400.91,186.10 401.08,186.01 401.26,185.97 401.43,186.23 401.61,186.26 401.78,185.73 401.96,185.83 402.13,186.43 402.31,185.88 402.48,186.16 402.66,186.62 402.83,186.37 403.01,185.95 403.18,185.06 403.36,186.74 403.53,186.14 403.71,186.33 403.88,186.71 404.06,185.84 404.23,186.48 404.41,186.19 404.58,186.15 404.76,186.43 404.93,186.46 405.11,186.68 405.28,186.14 405.46,186.40 405.64,186.67 405.81,186.53 405.99,186.17 406.16,185.55 406.34,186.67 406.51,185.52 406.69,186.11 406.86,186.27 407.04,186.31 407.21,186.62 407.39,186.69 407.56,186.41 407.74,186.29 407.91,186.11 408.09,185.88 408.26,185.32 408.44,186.61 408.61,186.32 408.79,186.27 408.96,185.77 409.14,185.43 409.31,186.13 409.49,186.54 409.66,186.05 409.84,185.99 410.01,186.36 410.19,185.51 410.36,186.08 410.54,186.24 410.71,186.50 410.89,185.67 411.06,186.55 411.24,186.47 411.41,186.81 411.59,185.64 411.76,186.40 411.94,186.22 412.11,186.08 412.29,185.98 412.46,185.83 412.64,185.77 412.81,186.76 412.99,186.29 413.16,186.47 413.34,185.70 413.51,186.25 413.69,185.94 413.86,186.06 414.04,186.42 414.21,186.58 414.39,186.80 414.56,185.69 414.74,186.46 414.91,185.81 415.09,186.17 415.26,186.59 415.44,186.50 415.61,186.73 415.79,186.07 415.96,186.37 416.14,186.32 416.31,186.17 416.49,186.39 416.66,185.19 416.84,185.91 417.01,186.27 417.19,186.38 417.36,186.53 417.54,186.33 417.71,186.72 417.89,186.42 418.06,186.18 418.24,186.13 418.41,186.01 418.59,186.68 418.76,186.44 418.94,186.77 419.11,186.06 419.29,186.11 419.46,186.23 419.64,186.24 419.81,186.61 419.99,186.27 420.16,186.30 420.34,185.86 420.51,185.82 420.69,186.11 420.86,186.21 421.04,186.03 421.21,186.37 421.39,186.28 421.56,186.02 421.74,186.19 421.91,186.16 422.09,186.55 422.26,186.22 422.44,186.20 422.61,186.28 422.79,186.67 422.96,185.82 423.14,186.05 423.31,186.07 423.49,186.44 423.66,186.06 423.84,186.56 424.01,185.54 424.19,186.12 424.36,185.68 424.54,185.13 424.71,185.97 424.89,185.75 425.06,185.63 425.24,186.19 425.41,186.22 425.59,186.43 425.76,186.62 425.94,186.31 426.11,185.60 426.29,186.22 426.46,186.44 426.64,185.53 426.81,186.77 426.99,186.27 427.16,186.72 427.34,186.11 427.51,185.20 427.69,186.73 427.86,185.96 428.04,185.51 428.21,185.51 428.39,186.66 428.56,185.55 428.74,186.15 428.91,186.43 429.09,185.64 429.26,186.70 429.44,185.94 429.61,186.57 429.79,186.00 429.96,185.94 430.14,185.80 430.31,186.20 430.49,186.39 430.66,186.69 430.84,186.09 431.01,186.30 431.19,186.60 431.36,186.58 431.54,185.86 431.71,185.85 431.89,185.89 432.06,185.13 432.24,186.38 432.41,186.72 432.59,186.21 432.76,186.60 432.94,186.65 433.11,186.28 433.29,186.35 433.46,186.05 433.64,186.69 433.81,186.00 433.99,186.30 434.16,186.53 434.34,186.04 434.51,186.62 434.69,186.42 434.86,186.10 435.04,185.48 435.21,186.80 435.39,186.57 435.56,186.55 435.74,186.63 435.91,186.01 436.09,186.51 436.26,186.59 436.44,185.84 436.61,186.48 436.79,185.89 436.96,185.60 437.14,185.99 437.31,186.43 437.49,186.49 437.66,185.93 437.84,186.73 438.01,186.22 438.19,186.17 438.36,186.78 438.54,186.52 438.71,186.76 438.89,186.54 439.06,186.72 439.24,185.91 439.41,186.64 439.59,186.01 439.76,185.41 439.94,186.17 440.11,185.92 440.29,186.50 440.46,185.91 440.64,186.53 440.81,185.87 440.99,186.82 441.16,186.71 441.34,186.52 441.51,186.81 441.69,186.43 441.86,186.58 442.04,186.01 442.21,186.28 442.39,186.71 442.56,186.19 442.74,186.66 442.91,186.14 443.09,186.50 443.26,186.31 443.44,186.38 443.61,186.51 443.79,186.43 443.96,186.01 444.14,186.46 444.31,186.32 444.49,186.54 444.66,186.37 444.84,186.12 445.01,186.33 445.19,186.69 445.36,186.86 445.54,186.35 445.71,186.15 445.89,186.03 446.06,186.62 446.24,186.07 446.41,186.16 446.59,186.45 446.76,186.34 446.94,185.28 447.11,186.08 447.29,186.72 447.46,186.12 447.64,186.20 447.81,186.08 447.99,185.93 448.16,186.11 448.34,186.44 448.51,186.57 448.69,185.92 448.86,185.61 449.04,186.48 449.21,186.08 449.39,186.26 449.56,186.56 449.74,185.56 449.91,185.96 450.09,185.40 450.26,185.85 450.44,185.97 450.61,186.05 450.79,186.05 450.97,185.79 451.14,186.43 451.32,185.95 451.49,186.61 451.67,186.83 451.84,186.54 452.02,185.49 452.19,186.10 452.37,186.63 452.54,186.66 452.72,186.06 452.89,185.80 453.07,186.55 453.24,185.93 453.42,186.62 453.59,186.36 453.77,185.12 453.94,185.96 454.12,186.57 454.29,186.28 454.47,185.87 454.64,185.84 454.82,186.00 454.99,186.23 455.17,186.17 455.34,185.59 455.52,185.87 455.69,186.32 455.87,185.82 456.04,186.63 456.22,186.38 456.39,186.27 456.57,185.76 456.74,185.46 456.92,186.32 457.09,186.27 457.27,186.55 457.44,186.36 457.62,186.42 457.79,186.37 457.97,186.64 458.14,186.21 458.32,186.72 458.49,186.66 458.67,185.96 458.84,186.00 459.02,186.30 459.19,185.79 459.37,186.28 459.54,185.50 459.72,184.96 459.89,185.96 460.07,186.59 460.24,185.14 460.42,186.54 460.59,186.49 460.77,186.09 460.94,186.39 461.12,185.96 461.29,185.65 461.47,186.13 461.64,186.00 461.82,186.34 461.99,186.72 462.17,185.97 462.34,186.09 462.52,186.66 462.69,185.64 462.87,186.04 463.04,186.44 463.22,185.91 463.39,185.76 463.57,185.87 463.74,185.57 463.92,185.49 464.09,186.01 464.27,185.92 464.44,186.41 464.62,186.34 464.79,186.25 464.97,185.60 465.14,185.60 465.32,186.02 465.49,186.19 465.67,186.10 465.84,186.51 466.02,185.86 466.19,186.09 466.37,186.13 466.54,186.07 466.72,186.53 466.89,186.14 467.07,186.68 467.24,185.61 467.42,185.50 467.59,185.73 467.77,186.33 467.94,185.73 468.12,186.36 468.29,186.40 468.47,186.24 468.64,186.37 468.82,186.46 468.99,186.64 469.17,186.02 469.34,186.00 469.52,186.29 469.69,185.80 469.87,186.23 470.04,186.82 470.22,185.94 470.39,186.08 470.57,185.95 470.74,185.84 470.92,185.99 471.09,186.24 471.27,186.50 471.44,186.43 471.62,186.39 471.79,186.58 471.97,186.67 472.14,186.70 472.32,186.26 472.49,186.54 472.67,185.46 472.84,186.27 473.02,186.17 473.19,186.26 473.37,186.46 473.54,185.87 473.72,186.25 473.89,186.25 474.07,186.64 474.24,186.56 474.42,186.44 474.59,186.60 474.77,186.68 474.94,185.83 475.12,186.18 475.29,185.98 475.47,186.11 475.64,186.17 475.82,186.24 475.99,186.12 476.17,186.26 476.34,186.51 476.52,186.10 476.69,186.21 476.87,186.15 477.04,186.34 477.22,186.41 477.39,186.03 477.57,186.31 477.74,185.91 477.92,186.00 478.09,186.07 478.27,185.98 478.44,186.33 478.62,186.42 478.79,186.44 478.97,185.17 479.14,186.00 479.32,185.39 479.49,186.32 479.67,184.76 479.84,185.86 480.02,186.29 480.19,186.05 480.37,186.05 480.54,185.88 480.72,186.52 480.89,186.21 481.07,186.17 481.24,186.18 481.42,185.60 481.59,185.93 481.77,186.17 481.94,186.45 482.12,186.03 482.29,186.67 482.47,185.91 482.64,186.52 482.82,185.84 482.99,186.20 483.17,186.13 483.34,185.83 483.52,185.48 483.69,186.32 483.87,185.99 484.04,185.90 484.22,185.73 484.39,186.61 484.57,186.13 484.74,186.07 484.92,186.04 485.09,185.90 485.27,186.39 485.44,185.68 485.62,186.36 485.79,186.44 485.97,186.27 486.14,185.91 486.32,185.75 486.49,186.13 486.67,186.74 486.84,186.00 487.02,186.41 487.19,186.03 487.37,185.55 487.54,186.42 487.72,185.28 487.89,186.06 488.07,186.84 488.24,185.52 488.42,186.31 488.59,186.53 488.77,186.13 488.94,186.70 489.12,186.24 489.29,186.29 489.47,186.45 489.64,185.84 489.82,186.80 489.99,186.37 490.17,186.75 490.34,186.27 490.52,186.49 490.69,186.25 490.87,186.38 491.04,186.50 491.22,186.68 491.39,186.38 491.57,185.85 491.74,186.08 491.92,186.57 492.09,186.84 492.27,186.33 492.44,186.56 492.62,185.95 492.79,185.93 492.97,185.54 493.14,186.28 493.32,186.41 493.49,186.36 493.67,186.03 493.84,186.23 494.02,186.56 494.19,185.73 494.37,186.75 494.54,186.65 494.72,185.61 494.89,186.13 495.07,185.75 495.24,186.68 495.42,186.56 495.59,186.14 495.77,186.19 495.94,186.73 496.12,186.65 496.29,185.34 496.47,184.94 496.65,186.47 496.82,186.30 497.00,186.36 497.17,186.18 497.35,186.56 497.52,186.03 497.70,185.39 497.87,186.08 498.05,186.44 498.22,186.36 498.40,186.34 498.57,186.53 498.75,185.84 498.92,185.35 499.10,185.31 499.27,185.98 499.45,186.46 499.62,186.04 499.80,186.54 499.97,186.28 500.15,186.00 500.32,186.16 500.50,186.02 500.67,185.83 500.85,186.10 501.02,186.15 501.20,186.05 501.37,186.49 501.55,186.31 501.72,186.56 501.90,186.70 502.07,186.04 502.25,185.80 502.42,186.37 502.60,185.40 502.77,185.83 502.95,185.40 503.12,186.73 503.30,185.55 503.47,186.38 503.65,185.75 503.82,186.03 504.00,185.64 504.17,186.45 504.35,186.42 504.52,185.80 504.70,186.08 504.87,186.64 505.05,186.22 505.22,186.42 505.40,186.15 505.57,186.08 505.75,186.19 505.92,185.96 506.10,186.82 506.27,186.17 506.45,186.23 506.62,186.24 506.80,186.06 506.97,186.13 507.15,186.26 507.32,185.61 507.50,186.12 507.67,186.57 507.85,186.49 508.02,186.15 508.20,186.10 508.37,185.95 508.55,185.73 508.72,185.93 508.90,186.36 509.07,185.21 509.25,186.05 509.42,185.93 509.60,186.42 509.77,186.64 509.95,186.51 510.12,186.73 510.30,185.41 510.47,185.97 510.65,186.33 510.82,186.48 511.00,186.27 511.17,186.60 511.35,186.45 511.52,186.19 511.70,186.44 511.87,186.22 512.05,185.43 512.22,185.87 512.40,186.00 512.57,186.45 512.75,186.60 512.92,186.01 513.10,186.08 513.27,186.31 513.45,186.05 513.62,186.83 513.80,186.45 513.97,186.20 514.15,186.36 514.32,186.19 514.50,186.22 514.67,186.03 514.85,185.64 515.02,186.75 515.20,186.36 515.37,186.82 515.55,185.63 515.72,186.62 515.90,185.81 516.07,186.27 516.25,186.68 516.42,185.66 516.60,186.20 516.77,185.89 516.95,186.43 517.12,185.87 517.30,186.62 517.47,186.09 517.65,186.63 517.82,186.43 518.00,186.02 518.17,186.11 518.35,186.22 518.52,186.49 518.70,186.52 518.87,185.83 519.05,185.35 519.22,186.40 519.40,186.62 519.57,186.06 519.75,186.76 519.92,185.67 520.10,186.12 520.27,186.34 520.45,186.01 520.62,186.11 520.80,186.26 520.97,185.91 521.15,186.13 521.32,186.18 521.50,186.57 521.67,185.74 521.85,186.43 522.02,186.81 522.20,186.71 522.37,185.83 522.55,186.66 522.72,186.39 522.90,186.25 523.07,185.91 523.25,185.93 523.42,186.64 523.60,186.03 523.77,186.22 523.95,186.86 524.12,185.76 524.30,186.06 524.47,186.17 524.65,186.23 524.82,186.04 525.00,186.32 525.17,185.72 525.35,186.61 525.52,186.58 525.70,185.92 525.87,186.60 526.05,186.29 526.22,186.75 526.40,186.79 526.57,186.52 526.75,185.73 526.92,186.54 527.10,186.00 527.27,186.21 527.45,185.31 527.62,186.60 527.80,185.85 527.97,186.43 528.15,186.16 528.32,185.94 528.50,185.85 528.67,185.38 528.85,186.78 529.02,186.39 529.20,185.85 529.37,185.88 529.55,186.51 529.72,186.58 529.90,186.00 530.07,185.91 530.25,186.37 530.42,186.39 530.60,185.92 530.77,185.98 530.95,185.62 531.12,186.64 531.30,186.63 531.47,186.15 531.65,186.36 531.82,185.75 532.00,186.25 532.17,186.29 532.35,185.92 532.52,186.55 532.70,185.47 532.87,186.06 533.05,186.04 533.22,186.44 533.40,186.55 533.57,186.34 533.75,186.77 533.92,186.86 534.10,186.34 534.27,185.60 534.45,186.17 534.62,186.13 534.80,186.09 534.97,186.15 535.15,186.31 535.32,186.24 535.50,186.16 535.67,186.28 535.85,186.66 536.02,186.35 536.20,186.14 536.37,186.35 536.55,185.66 536.72,185.85 536.90,186.52 537.07,186.60 537.25,186.10 537.42,186.23 537.60,186.66 537.77,186.08 537.95,185.90 538.12,186.30 538.30,186.42 538.47,185.88 538.65,185.45 538.82,186.48 539.00,186.07 539.17,185.92 539.35,186.31 539.52,186.24 539.70,186.32 539.87,186.42 540.05,185.74 540.22,186.04 540.40,185.84 540.57,185.52 540.75,186.30 540.92,185.40 541.10,186.15 541.27,186.14 541.45,186.67 541.62,186.30 541.80,186.55"/>
<line x1="428.23" y1="185.70" x2="428.23" y2="7.50" stroke="#65a6dd" stroke-width="1.35"/>
<text class="t l" x="428.12" y="206.80" transform="rotate(0.05 428.12 206.80)" text-anchor="middle">Cyclic Frequency-α(Hz)</text>
<text class="t" x="541.50" y="208.45" transform="rotate(0.05 541.50 208.45)" text-anchor="end"><tspan font-size="7.9" dy="0.3">×</tspan><tspan dx="0.6" dy="-0.3">10</tspan><tspan dy="-2.6" font-size="5.2">6</tspan></text>
<text class="t l" transform="translate(295.20,97.10) rotate(-90)" text-anchor="middle">amplitude -|C<tspan dy="2.3" font-size="5.4">40</tspan><tspan dy="-2.5">|</tspan></text>
<text class="c" x="418.30" y="226.60" transform="rotate(0.05 418.30 226.60)" text-anchor="middle">(<tspan font-weight="bold" dx="0.35" font-size="14.6">b</tspan><tspan dx="0.35">)</tspan></text>
</g>
<g>
<line x1="55.35" y1="238.20" x2="55.35" y2="416.60" stroke="#ececec" stroke-width="0.7"/>
<line x1="77.60" y1="238.20" x2="77.60" y2="416.60" stroke="#ececec" stroke-width="0.7"/>
<line x1="99.85" y1="238.20" x2="99.85" y2="416.60" stroke="#ececec" stroke-width="0.7"/>
<line x1="122.10" y1="238.20" x2="122.10" y2="416.60" stroke="#ececec" stroke-width="0.7"/>
<line x1="144.35" y1="238.20" x2="144.35" y2="416.60" stroke="#ececec" stroke-width="0.7"/>
<line x1="166.60" y1="238.20" x2="166.60" y2="416.60" stroke="#ececec" stroke-width="0.7"/>
<line x1="188.85" y1="238.20" x2="188.85" y2="416.60" stroke="#ececec" stroke-width="0.7"/>
<line x1="211.10" y1="238.20" x2="211.10" y2="416.60" stroke="#ececec" stroke-width="0.7"/>
<line x1="233.35" y1="238.20" x2="233.35" y2="416.60" stroke="#ececec" stroke-width="0.7"/>
<line x1="33.10" y1="390.77" x2="255.60" y2="390.77" stroke="#ececec" stroke-width="0.7"/>
<line x1="33.10" y1="365.34" x2="255.60" y2="365.34" stroke="#ececec" stroke-width="0.7"/>
<line x1="33.10" y1="339.91" x2="255.60" y2="339.91" stroke="#ececec" stroke-width="0.7"/>
<line x1="33.10" y1="314.49" x2="255.60" y2="314.49" stroke="#ececec" stroke-width="0.7"/>
<line x1="33.10" y1="289.06" x2="255.60" y2="289.06" stroke="#ececec" stroke-width="0.7"/>
<line x1="33.10" y1="263.63" x2="255.60" y2="263.63" stroke="#ececec" stroke-width="0.7"/>
<rect x="33.10" y="238.20" width="222.50" height="178.40" fill="none" stroke="#606060" stroke-width="0.75"/>
<text class="t" x="32.80" y="426.20" transform="rotate(0.05 32.80 426.20)" text-anchor="middle">4.9</text>
<line x1="55.35" y1="416.60" x2="55.35" y2="414.10" stroke="#606060" stroke-width="0.7"/>
<line x1="55.35" y1="238.20" x2="55.35" y2="240.70" stroke="#606060" stroke-width="0.7"/>
<text class="t" x="55.05" y="426.20" transform="rotate(0.05 55.05 426.20)" text-anchor="middle">4.92</text>
<line x1="77.60" y1="416.60" x2="77.60" y2="414.10" stroke="#606060" stroke-width="0.7"/>
<line x1="77.60" y1="238.20" x2="77.60" y2="240.70" stroke="#606060" stroke-width="0.7"/>
<text class="t" x="77.30" y="426.20" transform="rotate(0.05 77.30 426.20)" text-anchor="middle">4.94</text>
<line x1="99.85" y1="416.60" x2="99.85" y2="414.10" stroke="#606060" stroke-width="0.7"/>
<line x1="99.85" y1="238.20" x2="99.85" y2="240.70" stroke="#606060" stroke-width="0.7"/>
<text class="t" x="99.55" y="426.20" transform="rotate(0.05 99.55 426.20)" text-anchor="middle">4.96</text>
<line x1="122.10" y1="416.60" x2="122.10" y2="414.10" stroke="#606060" stroke-width="0.7"/>
<line x1="122.10" y1="238.20" x2="122.10" y2="240.70" stroke="#606060" stroke-width="0.7"/>
<text class="t" x="121.80" y="426.20" transform="rotate(0.05 121.80 426.20)" text-anchor="middle">4.98</text>
<line x1="144.35" y1="416.60" x2="144.35" y2="414.10" stroke="#606060" stroke-width="0.7"/>
<line x1="144.35" y1="238.20" x2="144.35" y2="240.70" stroke="#606060" stroke-width="0.7"/>
<text class="t" x="144.05" y="426.20" transform="rotate(0.05 144.05 426.20)" text-anchor="middle">5</text>
<line x1="166.60" y1="416.60" x2="166.60" y2="414.10" stroke="#606060" stroke-width="0.7"/>
<line x1="166.60" y1="238.20" x2="166.60" y2="240.70" stroke="#606060" stroke-width="0.7"/>
<text class="t" x="166.30" y="426.20" transform="rotate(0.05 166.30 426.20)" text-anchor="middle">5.02</text>
<line x1="188.85" y1="416.60" x2="188.85" y2="414.10" stroke="#606060" stroke-width="0.7"/>
<line x1="188.85" y1="238.20" x2="188.85" y2="240.70" stroke="#606060" stroke-width="0.7"/>
<text class="t" x="188.55" y="426.20" transform="rotate(0.05 188.55 426.20)" text-anchor="middle">5.04</text>
<line x1="211.10" y1="416.60" x2="211.10" y2="414.10" stroke="#606060" stroke-width="0.7"/>
<line x1="211.10" y1="238.20" x2="211.10" y2="240.70" stroke="#606060" stroke-width="0.7"/>
<text class="t" x="210.80" y="426.20" transform="rotate(0.05 210.80 426.20)" text-anchor="middle">5.06</text>
<line x1="233.35" y1="416.60" x2="233.35" y2="414.10" stroke="#606060" stroke-width="0.7"/>
<line x1="233.35" y1="238.20" x2="233.35" y2="240.70" stroke="#606060" stroke-width="0.7"/>
<text class="t" x="233.05" y="426.20" transform="rotate(0.05 233.05 426.20)" text-anchor="middle">5.08</text>
<text class="t" x="255.30" y="426.20" transform="rotate(0.05 255.30 426.20)" text-anchor="middle">5.1</text>
<text class="t" x="29.90" y="419.35" transform="rotate(0.05 29.90 419.35)" text-anchor="end">0</text>
<line x1="33.10" y1="390.77" x2="35.60" y2="390.77" stroke="#606060" stroke-width="0.7"/>
<line x1="255.60" y1="390.77" x2="253.10" y2="390.77" stroke="#606060" stroke-width="0.7"/>
<text class="t" x="29.90" y="393.52" transform="rotate(0.05 29.90 393.52)" text-anchor="end">0.05</text>
<line x1="33.10" y1="365.34" x2="35.60" y2="365.34" stroke="#606060" stroke-width="0.7"/>
<line x1="255.60" y1="365.34" x2="253.10" y2="365.34" stroke="#606060" stroke-width="0.7"/>
<text class="t" x="29.90" y="368.09" transform="rotate(0.05 29.90 368.09)" text-anchor="end">0.1</text>
<line x1="33.10" y1="339.91" x2="35.60" y2="339.91" stroke="#606060" stroke-width="0.7"/>
<line x1="255.60" y1="339.91" x2="253.10" y2="339.91" stroke="#606060" stroke-width="0.7"/>
<text class="t" x="29.90" y="342.66" transform="rotate(0.05 29.90 342.66)" text-anchor="end">0.15</text>
<line x1="33.10" y1="314.49" x2="35.60" y2="314.49" stroke="#606060" stroke-width="0.7"/>
<line x1="255.60" y1="314.49" x2="253.10" y2="314.49" stroke="#606060" stroke-width="0.7"/>
<text class="t" x="29.90" y="317.24" transform="rotate(0.05 29.90 317.24)" text-anchor="end">0.2</text>
<line x1="33.10" y1="289.06" x2="35.60" y2="289.06" stroke="#606060" stroke-width="0.7"/>
<line x1="255.60" y1="289.06" x2="253.10" y2="289.06" stroke="#606060" stroke-width="0.7"/>
<text class="t" x="29.90" y="291.81" transform="rotate(0.05 29.90 291.81)" text-anchor="end">0.25</text>
<line x1="33.10" y1="263.63" x2="35.60" y2="263.63" stroke="#606060" stroke-width="0.7"/>
<line x1="255.60" y1="263.63" x2="253.10" y2="263.63" stroke="#606060" stroke-width="0.7"/>
<text class="t" x="29.90" y="266.38" transform="rotate(0.05 29.90 266.38)" text-anchor="end">0.3</text>
<text class="t" x="29.90" y="240.95" transform="rotate(0.05 29.90 240.95)" text-anchor="end">0.35</text>
<polyline fill="none" stroke="#0d6cc0" stroke-width="0.60" stroke-linejoin="round" points="33.10,411.66 33.27,414.15 33.44,415.13 33.61,411.63 33.79,415.71 33.96,416.11 34.13,415.26 34.30,414.37 34.47,415.50 34.64,415.57 34.81,413.03 34.98,412.67 35.16,413.01 35.33,410.97 35.50,413.82 35.67,415.86 35.84,415.92 36.01,414.38 36.18,413.25 36.35,415.08 36.53,414.02 36.70,415.78 36.87,412.09 37.04,414.53 37.21,415.50 37.38,415.23 37.55,414.01 37.72,414.61 37.90,416.01 38.07,415.59 38.24,413.67 38.41,411.05 38.58,414.19 38.75,415.95 38.92,414.07 39.09,411.78 39.27,413.45 39.44,415.47 39.61,412.60 39.78,415.38 39.95,414.44 40.12,412.87 40.29,411.87 40.47,414.16 40.64,412.30 40.81,415.50 40.98,413.97 41.15,415.16 41.32,412.09 41.49,415.40 41.66,412.09 41.84,411.92 42.01,412.88 42.18,412.82 42.35,411.83 42.52,413.98 42.69,413.21 42.86,413.17 43.03,412.62 43.21,413.72 43.38,412.36 43.55,412.30 43.72,415.36 43.89,411.23 44.06,416.14 44.23,414.54 44.40,414.97 44.58,413.96 44.75,414.29 44.92,410.69 45.09,414.92 45.26,412.88 45.43,409.32 45.60,410.31 45.78,414.07 45.95,409.72 46.12,413.54 46.29,414.68 46.46,413.86 46.63,412.06 46.80,412.71 46.97,413.80 47.15,413.72 47.32,412.86 47.49,413.69 47.66,412.26 47.83,413.94 48.00,415.93 48.17,411.19 48.34,414.35 48.52,415.95 48.69,415.66 48.86,415.69 49.03,412.69 49.20,415.34 49.37,415.46 49.54,413.53 49.71,414.55 49.89,415.93 50.06,410.01 50.23,412.88 50.40,415.03 50.57,415.32 50.74,413.43 50.91,412.19 51.08,414.11 51.26,416.52 51.43,415.26 51.60,413.21 51.77,413.87 51.94,415.19 52.11,414.78 52.28,415.63 52.46,413.40 52.63,415.89 52.80,414.00 52.97,411.06 53.14,414.01 53.31,415.65 53.48,411.71 53.65,415.93 53.83,414.14 54.00,412.16 54.17,411.98 54.34,408.96 54.51,414.40 54.68,412.40 54.85,411.76 55.02,413.85 55.20,415.01 55.37,413.32 55.54,410.28 55.71,410.53 55.88,413.06 56.05,413.60 56.22,415.65 56.39,412.29 56.57,412.76 56.74,414.51 56.91,411.71 57.08,415.83 57.25,413.62 57.42,413.90 57.59,411.92 57.77,414.69 57.94,413.06 58.11,412.24 58.28,415.51 58.45,412.85 58.62,413.78 58.79,416.01 58.96,412.17 59.14,414.32 59.31,412.99 59.48,414.31 59.65,412.10 59.82,410.67 59.99,414.25 60.16,415.47 60.33,411.04 60.51,416.03 60.68,412.94 60.85,412.85 61.02,413.89 61.19,407.75 61.36,413.93 61.53,414.14 61.70,411.11 61.88,414.79 62.05,411.85 62.22,412.19 62.39,406.76 62.56,415.57 62.73,413.12 62.90,411.21 63.07,412.82 63.25,414.69 63.42,414.21 63.59,410.74 63.76,408.68 63.93,410.04 64.10,412.94 64.27,414.85 64.45,415.29 64.62,412.63 64.79,414.88 64.96,414.74 65.13,412.58 65.30,409.86 65.47,414.02 65.64,413.29 65.82,413.02 65.99,414.76 66.16,413.81 66.33,412.96 66.50,412.93 66.67,408.92 66.84,411.30 67.01,411.58 67.19,413.24 67.36,412.11 67.53,412.47 67.70,413.91 67.87,411.81 68.04,409.86 68.21,408.81 68.38,408.29 68.56,413.17 68.73,411.85 68.90,416.07 69.07,414.03 69.24,408.36 69.41,415.14 69.58,408.95 69.76,415.10 69.93,413.98 70.10,411.43 70.27,413.03 70.44,412.93 70.61,409.91 70.78,415.62 70.95,415.14 71.13,415.08 71.30,409.79 71.47,415.21 71.64,409.17 71.81,409.53 71.98,414.79 72.15,412.92 72.32,412.69 72.50,410.68 72.67,410.44 72.84,413.30 73.01,412.73 73.18,405.79 73.35,413.73 73.52,411.44 73.69,413.05 73.87,408.70 74.04,414.33 74.21,412.13 74.38,405.68 74.55,411.05 74.72,411.13 74.89,411.19 75.06,408.49 75.24,412.87 75.41,407.33 75.58,410.77 75.75,413.60 75.92,409.04 76.09,409.98 76.26,411.22 76.44,411.68 76.61,414.77 76.78,410.64 76.95,414.52 77.12,410.85 77.29,405.60 77.46,412.60 77.63,412.96 77.81,409.66 77.98,414.33 78.15,411.72 78.32,413.50 78.49,409.20 78.66,413.32 78.83,411.97 79.00,411.65 79.18,410.66 79.35,409.77 79.52,413.75 79.69,409.15 79.86,412.64 80.03,409.20 80.20,414.14 80.37,411.48 80.55,412.24 80.72,413.39 80.89,412.21 81.06,412.43 81.23,413.44 81.40,412.42 81.57,413.78 81.75,408.15 81.92,405.30 82.09,415.30 82.26,413.68 82.43,412.70 82.60,409.43 82.77,407.83 82.94,411.33 83.12,411.54 83.29,414.09 83.46,414.87 83.63,411.89 83.80,412.91 83.97,413.34 84.14,408.96 84.31,410.77 84.49,409.60 84.66,414.24 84.83,413.87 85.00,407.51 85.17,413.33 85.34,411.56 85.51,412.42 85.68,413.13 85.86,413.99 86.03,408.39 86.20,411.47 86.37,409.61 86.54,411.89 86.71,412.58 86.88,413.84 87.05,410.17 87.23,412.68 87.40,410.94 87.57,411.20 87.74,413.20 87.91,406.18 88.08,408.47 88.25,410.79 88.43,410.18 88.60,411.83 88.77,408.62 88.94,413.37 89.11,403.87 89.28,412.89 89.45,411.14 89.62,409.70 89.80,413.26 89.97,413.11 90.14,402.65 90.31,414.46 90.48,410.45 90.65,412.76 90.82,415.00 90.99,411.46 91.17,414.54 91.34,413.53 91.51,409.77 91.68,410.97 91.85,404.03 92.02,408.50 92.19,411.00 92.36,412.83 92.54,401.80 92.71,411.83 92.88,414.52 93.05,414.43 93.22,412.69 93.39,411.94 93.56,409.41 93.74,411.48 93.91,413.32 94.08,410.38 94.25,414.41 94.42,408.96 94.59,412.47 94.76,410.38 94.93,407.18 95.11,408.32 95.28,411.08 95.45,410.44 95.62,408.29 95.79,409.62 95.96,416.15 96.13,408.01 96.30,415.40 96.48,406.56 96.65,414.27 96.82,407.88 96.99,413.27 97.16,409.93 97.33,415.61 97.50,413.19 97.67,405.09 97.85,411.46 98.02,410.65 98.19,409.91 98.36,412.73 98.53,409.35 98.70,413.39 98.87,409.76 99.04,408.76 99.22,413.16 99.39,412.29 99.56,416.27 99.73,411.09 99.90,407.60 100.07,406.99 100.24,407.30 100.42,415.57 100.59,410.86 100.76,406.74 100.93,405.01 101.10,411.10 101.27,413.72 101.44,415.09 101.61,409.82 101.79,406.55 101.96,408.03 102.13,413.59 102.30,412.52 102.47,409.79 102.64,405.59 102.81,409.71 102.98,414.15 103.16,414.29 103.33,413.78 103.50,414.40 103.67,410.09 103.84,409.17 104.01,410.49 104.18,408.59 104.35,412.47 104.53,410.90 104.70,411.47 104.87,408.66 105.04,408.19 105.21,409.97 105.38,409.32 105.55,414.71 105.73,413.62 105.90,411.87 106.07,414.27 106.24,409.16 106.41,406.04 106.58,414.03 106.75,409.21 106.92,406.46 107.10,412.75 107.27,413.40 107.44,411.38 107.61,411.42 107.78,409.01 107.95,411.11 108.12,408.33 108.29,407.84 108.47,405.06 108.64,414.03 108.81,404.95 108.98,407.86 109.15,406.57 109.32,403.58 109.49,415.22 109.66,410.98 109.84,414.32 110.01,407.41 110.18,411.40 110.35,408.93 110.52,408.39 110.69,409.76 110.86,415.07 111.03,402.86 111.21,412.54 111.38,412.28 111.55,409.23 111.72,412.36 111.89,414.30 112.06,404.66 112.23,413.35 112.41,407.43 112.58,414.18 112.75,405.41 112.92,406.16 113.09,408.83 113.26,416.11 113.43,408.55 113.60,412.51 113.78,414.09 113.95,410.13 114.12,412.63 114.29,411.85 114.46,408.34 114.63,408.66 114.80,414.53 114.97,412.45 115.15,410.01 115.32,412.20 115.49,405.46 115.66,409.87 115.83,408.97 116.00,415.17 116.17,407.42 116.34,408.39 116.52,407.48 116.69,406.71 116.86,410.80 117.03,404.97 117.20,413.15 117.37,403.51 117.54,413.82 117.72,413.94 117.89,406.62 118.06,409.12 118.23,415.88 118.40,408.54 118.57,408.83 118.74,401.29 118.91,412.90 119.09,409.99 119.26,410.78 119.43,411.03 119.60,409.02 119.77,413.89 119.94,407.31 120.11,406.88 120.28,408.23 120.46,410.88 120.63,413.69 120.80,408.93 120.97,408.30 121.14,414.08 121.31,407.55 121.48,410.90 121.65,414.25 121.83,409.61 122.00,411.01 122.17,411.61 122.34,409.52 122.51,409.40 122.68,407.49 122.85,409.78 123.02,411.35 123.20,410.61 123.37,401.42 123.54,410.76 123.71,414.47 123.88,404.32 124.05,409.56 124.22,408.01 124.40,409.31 124.57,411.29 124.74,412.10 124.91,411.19 125.08,404.79 125.25,400.35 125.42,411.87 125.59,415.08 125.77,413.30 125.94,410.62 126.11,408.96 126.28,410.57 126.45,410.68 126.62,405.43 126.79,410.32 126.96,411.11 127.14,409.26 127.31,407.68 127.48,413.92 127.65,406.41 127.82,409.21 127.99,409.54 128.16,411.11 128.33,407.50 128.51,411.28 128.68,414.86 128.85,402.12 129.02,407.87 129.19,408.78 129.36,409.38 129.53,412.15 129.71,415.15 129.88,409.12 130.05,412.47 130.22,409.84 130.39,405.48 130.56,411.00 130.73,415.42 130.90,408.95 131.08,407.34 131.25,406.05 131.42,408.63 131.59,416.23 131.76,408.54 131.93,411.94 132.10,409.00 132.27,413.91 132.45,412.70 132.62,410.32 132.79,402.70 132.96,413.92 133.13,410.31 133.30,413.55 133.47,412.26 133.64,410.56 133.82,401.68 133.99,393.58 134.16,411.77 134.33,407.75 134.50,407.66 134.67,409.02 134.84,405.48 135.01,413.00 135.19,404.31 135.36,405.30 135.53,410.42 135.70,412.11 135.87,403.79 136.04,411.49 136.21,410.37 136.39,409.18 136.56,410.46 136.73,407.75 136.90,406.77 137.07,411.11 137.24,406.66 137.41,412.97 137.58,407.01 137.76,408.99 137.93,411.29 138.10,408.29 138.27,406.26 138.44,403.53 138.61,407.54 138.78,406.74 138.95,405.69 139.13,404.39 139.30,405.48 139.47,413.77 139.64,414.07 139.81,413.20 139.98,409.62 140.15,404.40 140.32,414.99 140.50,412.45 140.67,404.49 140.84,405.51 141.01,410.82 141.18,406.51 141.35,408.76 141.52,413.10 141.70,415.47 141.87,403.49 142.04,400.50 142.21,409.18 142.38,413.62 142.55,413.25 142.72,409.98 142.89,402.53 143.07,411.73 143.24,411.27 143.41,404.81 143.58,414.31 143.75,407.65 143.92,412.67 144.09,409.09 144.26,406.58 144.44,406.58 144.61,407.88 144.78,407.55 144.95,412.74 145.12,398.02 145.29,410.18 145.46,412.01 145.63,402.00 145.81,409.86 145.98,407.53 146.15,407.73 146.32,406.37 146.49,404.98 146.66,406.97 146.83,409.16 147.00,409.24 147.18,411.08 147.35,407.22 147.52,404.07 147.69,407.47 147.86,410.12 148.03,409.63 148.20,408.25 148.38,391.69 148.55,407.55 148.72,404.60 148.89,410.57 149.06,404.25 149.23,406.69 149.40,397.92 149.57,408.32 149.75,406.20 149.92,414.01 150.09,410.40 150.26,409.30 150.43,410.55 150.60,407.83 150.77,412.65 150.94,408.04 151.12,407.91 151.29,408.35 151.46,405.94 151.63,412.42 151.80,406.14 151.97,412.57 152.14,401.05 152.31,415.74 152.49,412.14 152.66,410.99 152.83,409.48 153.00,412.46 153.17,415.12 153.34,411.42 153.51,411.94 153.69,405.60 153.86,410.61 154.03,408.21 154.20,404.92 154.37,411.63 154.54,410.59 154.71,409.37 154.88,400.78 155.06,410.51 155.23,415.93 155.40,408.17 155.57,413.58 155.74,409.05 155.91,405.50 156.08,410.88 156.25,404.55 156.43,411.25 156.60,402.58 156.77,410.65 156.94,404.33 157.11,407.37 157.28,414.23 157.45,409.34 157.62,407.35 157.80,414.53 157.97,413.67 158.14,410.06 158.31,408.23 158.48,413.78 158.65,412.53 158.82,409.35 158.99,407.85 159.17,408.78 159.34,411.00 159.51,415.00 159.68,412.63 159.85,409.47 160.02,402.60 160.19,410.99 160.37,407.55 160.54,406.02 160.71,403.19 160.88,411.15 161.05,415.74 161.22,410.98 161.39,414.01 161.56,407.68 161.74,402.82 161.91,412.59 162.08,406.57 162.25,411.76 162.42,412.99 162.59,412.09 162.76,411.38 162.93,409.28 163.11,408.69 163.28,406.91 163.45,406.82 163.62,413.03 163.79,409.01 163.96,408.16 164.13,409.46 164.30,413.00 164.48,412.06 164.65,410.65 164.82,404.37 164.99,405.05 165.16,407.59 165.33,407.31 165.50,412.18 165.68,409.22 165.85,411.83 166.02,412.54 166.19,408.88 166.36,413.69 166.53,413.34 166.70,408.86 166.87,401.12 167.05,411.69 167.22,409.24 167.39,406.01 167.56,414.11 167.73,412.41 167.90,410.75 168.07,409.10 168.24,403.29 168.42,413.23 168.59,408.70 168.76,408.03 168.93,413.83 169.10,408.64 169.27,411.96 169.44,412.72 169.61,410.85 169.79,407.18 169.96,406.78 170.13,414.96 170.30,406.88 170.47,403.09 170.64,407.66 170.81,406.80 170.98,405.88 171.16,410.59 171.33,409.77 171.50,410.55 171.67,408.99 171.84,406.22 172.01,406.43 172.18,415.55 172.36,404.63 172.53,413.37 172.70,408.98 172.87,414.82 173.04,414.37 173.21,414.30 173.38,413.17 173.55,405.85 173.73,408.95 173.90,404.85 174.07,409.42 174.24,412.03 174.41,414.26 174.58,413.36 174.75,408.17 174.92,404.88 175.10,406.61 175.27,406.63 175.44,409.96 175.61,412.04 175.78,409.53 175.95,414.93 176.12,414.36 176.29,409.89 176.47,411.66 176.64,409.97 176.81,407.05 176.98,407.79 177.15,406.67 177.32,413.41 177.49,409.81 177.67,412.89 177.84,405.91 178.01,412.53 178.18,410.18 178.35,412.35 178.52,404.92 178.69,411.23 178.86,415.65 179.04,406.98 179.21,407.38 179.38,405.68 179.55,414.47 179.72,411.64 179.89,415.89 180.06,413.29 180.23,409.04 180.41,410.93 180.58,409.11 180.75,412.31 180.92,401.77 181.09,409.29 181.26,409.88 181.43,414.08 181.60,412.75 181.78,408.32 181.95,414.22 182.12,410.66 182.29,403.02 182.46,413.73 182.63,408.07 182.80,406.84 182.97,412.47 183.15,408.31 183.32,407.89 183.49,409.92 183.66,407.42 183.83,413.28 184.00,409.57 184.17,414.44 184.35,411.93 184.52,412.63 184.69,414.71 184.86,411.39 185.03,407.46 185.20,411.43 185.37,413.58 185.54,415.54 185.72,406.92 185.89,414.42 186.06,413.62 186.23,415.16 186.40,411.79 186.57,407.58 186.74,413.74 186.91,413.05 187.09,405.88 187.26,412.97 187.43,410.86 187.60,410.76 187.77,404.00 187.94,408.51 188.11,405.26 188.28,414.77 188.46,413.60 188.63,411.60 188.80,409.87 188.97,411.48 189.14,414.11 189.31,408.22 189.48,406.46 189.66,410.59 189.83,408.92 190.00,407.05 190.17,410.03 190.34,415.02 190.51,408.96 190.68,409.40 190.85,406.08 191.03,413.11 191.20,409.52 191.37,413.21 191.54,412.30 191.71,412.22 191.88,408.74 192.05,408.80 192.22,412.12 192.40,410.00 192.57,404.71 192.74,411.42 192.91,408.53 193.08,411.15 193.25,405.88 193.42,413.20 193.59,406.82 193.77,407.61 193.94,410.84 194.11,410.19 194.28,409.20 194.45,413.76 194.62,415.74 194.79,410.56 194.96,410.20 195.14,412.30 195.31,413.82 195.48,413.43 195.65,415.36 195.82,408.88 195.99,408.87 196.16,415.63 196.34,407.67 196.51,407.29 196.68,413.97 196.85,406.19 197.02,408.27 197.19,414.04 197.36,408.15 197.53,407.84 197.71,413.94 197.88,404.28 198.05,413.79 198.22,410.84 198.39,409.94 198.56,416.20 198.73,413.48 198.90,413.25 199.08,410.62 199.25,410.22 199.42,414.07 199.59,414.88 199.76,414.35 199.93,409.15 200.10,411.74 200.27,415.83 200.45,407.37 200.62,409.79 200.79,414.75 200.96,411.85 201.13,414.34 201.30,413.17 201.47,409.71 201.65,409.34 201.82,409.08 201.99,415.56 202.16,412.55 202.33,410.88 202.50,412.47 202.67,412.16 202.84,410.44 203.02,411.17 203.19,414.64 203.36,409.07 203.53,414.50 203.70,413.92 203.87,411.70 204.04,408.22 204.21,414.35 204.39,413.88 204.56,410.10 204.73,405.47 204.90,415.38 205.07,410.85 205.24,411.50 205.41,407.36 205.58,412.15 205.76,409.27 205.93,411.39 206.10,412.48 206.27,415.70 206.44,414.01 206.61,414.63 206.78,413.88 206.95,408.89 207.13,414.78 207.30,413.02 207.47,414.48 207.64,413.96 207.81,414.17 207.98,407.15 208.15,414.62 208.33,413.49 208.50,414.49 208.67,411.09 208.84,411.45 209.01,414.17 209.18,413.52 209.35,411.30 209.52,407.01 209.70,408.91 209.87,409.97 210.04,408.11 210.21,412.04 210.38,414.15 210.55,408.34 210.72,407.51 210.89,414.49 211.07,407.79 211.24,411.83 211.41,411.94 211.58,410.12 211.75,408.66 211.92,410.56 212.09,414.50 212.26,412.16 212.44,415.24 212.61,415.95 212.78,413.48 212.95,412.52 213.12,415.43 213.29,414.81 213.46,411.71 213.64,415.30 213.81,412.15 213.98,415.91 214.15,413.63 214.32,409.79 214.49,411.75 214.66,409.78 214.83,409.47 215.01,408.75 215.18,415.66 215.35,413.59 215.52,411.64 215.69,411.86 215.86,414.08 216.03,415.49 216.20,410.63 216.38,410.61 216.55,411.40 216.72,413.40 216.89,413.42 217.06,412.43 217.23,407.35 217.40,415.82 217.57,411.77 217.75,413.11 217.92,409.19 218.09,413.61 218.26,415.06 218.43,412.69 218.60,416.22 218.77,414.33 218.94,408.79 219.12,414.71 219.29,412.03 219.46,415.74 219.63,414.25 219.80,413.67 219.97,413.22 220.14,414.72 220.32,408.58 220.49,413.45 220.66,416.28 220.83,411.81 221.00,411.15 221.17,412.39 221.34,416.57 221.51,414.11 221.69,412.60 221.86,415.56 222.03,411.20 222.20,411.71 222.37,412.59 222.54,413.90 222.71,414.66 222.88,413.30 223.06,410.42 223.23,413.62 223.40,413.07 223.57,410.04 223.74,412.75 223.91,413.27 224.08,414.99 224.25,414.04 224.43,411.49 224.60,410.25 224.77,414.79 224.94,407.79 225.11,415.60 225.28,416.33 225.45,416.03 225.63,411.68 225.80,413.36 225.97,414.61 226.14,412.96 226.31,412.33 226.48,415.71 226.65,410.75 226.82,410.76 227.00,413.51 227.17,416.37 227.34,414.25 227.51,414.60 227.68,415.91 227.85,414.13 228.02,414.64 228.19,413.31 228.37,414.21 228.54,414.85 228.71,410.23 228.88,415.73 229.05,414.31 229.22,415.39 229.39,413.67 229.56,411.73 229.74,412.01 229.91,411.92 230.08,414.71 230.25,414.37 230.42,412.77 230.59,410.04 230.76,415.30 230.93,414.93 231.11,414.57 231.28,413.18 231.45,412.13 231.62,413.27 231.79,412.03 231.96,415.51 232.13,415.41 232.31,411.46 232.48,412.23 232.65,408.07 232.82,412.50 232.99,413.14 233.16,413.80 233.33,416.09 233.50,412.45 233.68,413.36 233.85,414.03 234.02,411.11 234.19,413.68 234.36,411.67 234.53,412.09 234.70,412.96 234.87,414.92 235.05,411.23 235.22,414.67 235.39,413.98 235.56,415.11 235.73,410.49 235.90,414.32 236.07,413.26 236.24,416.38 236.42,414.95 236.59,414.47 236.76,412.55 236.93,411.15 237.10,412.49 237.27,413.69 237.44,415.61 237.62,413.53 237.79,414.08 237.96,415.06 238.13,415.11 238.30,414.60 238.47,413.36 238.64,415.55 238.81,412.77 238.99,412.05 239.16,412.83 239.33,414.51 239.50,415.43 239.67,413.99 239.84,413.63 240.01,415.11 240.18,413.24 240.36,414.72 240.53,415.21 240.70,414.19 240.87,413.89 241.04,415.39 241.21,413.40 241.38,412.95 241.55,415.15 241.73,414.37 241.90,415.56 242.07,414.27 242.24,413.74 242.41,413.18 242.58,414.85 242.75,414.60 242.92,413.46 243.10,416.14 243.27,413.11 243.44,414.10 243.61,415.71 243.78,412.54 243.95,413.59 244.12,413.49 244.30,411.88 244.47,411.86 244.64,413.80 244.81,414.41 244.98,411.62 245.15,411.86 245.32,413.55 245.49,414.55 245.67,413.14 245.84,411.26 246.01,411.86 246.18,414.11 246.35,414.43 246.52,411.85 246.69,412.23 246.86,411.24 247.04,416.11 247.21,412.78 247.38,414.73 247.55,411.70 247.72,412.29 247.89,415.01 248.06,413.24 248.23,414.52 248.41,413.33 248.58,416.00 248.75,414.63 248.92,410.86 249.09,412.67 249.26,413.89 249.43,412.19 249.61,414.26 249.78,411.10 249.95,410.92 250.12,413.32 250.29,415.09 250.46,415.89 250.63,413.92 250.80,413.25 250.98,415.00 251.15,413.24 251.32,414.24 251.49,413.53 251.66,415.53 251.83,413.96 252.00,413.86 252.17,413.77 252.35,414.27 252.52,414.63 252.69,412.79 252.86,412.29 253.03,414.12 253.20,412.16 253.37,415.20 253.54,414.22 253.72,415.01 253.89,415.33 254.06,410.11 254.23,413.99 254.40,410.23 254.57,411.53 254.74,416.16 254.91,415.39 255.09,412.18 255.26,413.13 255.43,414.02 255.60,413.99"/>
<line x1="144.35" y1="415.20" x2="144.35" y2="241.76" stroke="#3b8cd4" stroke-width="1.20"/>
<text class="t l" x="144.35" y="436.10" transform="rotate(0.05 144.35 436.10)" text-anchor="middle">Cyclic Frequency-α(Hz)</text>
<text class="t" x="255.30" y="437.60" transform="rotate(0.05 255.30 437.60)" text-anchor="end"><tspan font-size="7.9" dy="0.3">×</tspan><tspan dx="0.6" dy="-0.3">10</tspan><tspan dy="-2.6" font-size="5.2">6</tspan></text>
<text class="t l" transform="translate(10.70,327.20) rotate(-90)" text-anchor="middle">amplitude -|C<tspan dy="2.3" font-size="5.4">40</tspan><tspan dy="-2.5">|</tspan></text>
<text class="c" x="132.45" y="455.60" transform="rotate(0.05 132.45 455.60)" text-anchor="middle">(<tspan font-weight="bold" dx="0.2" font-size="13.9">c</tspan><tspan dx="0.2">)</tspan></text>
</g>
<g>
<line x1="338.13" y1="236.30" x2="338.13" y2="416.40" stroke="#ececec" stroke-width="0.7"/>
<line x1="360.62" y1="236.30" x2="360.62" y2="416.40" stroke="#ececec" stroke-width="0.7"/>
<line x1="383.11" y1="236.30" x2="383.11" y2="416.40" stroke="#ececec" stroke-width="0.7"/>
<line x1="405.59" y1="236.30" x2="405.59" y2="416.40" stroke="#ececec" stroke-width="0.7"/>
<line x1="428.07" y1="236.30" x2="428.07" y2="416.40" stroke="#ececec" stroke-width="0.7"/>
<line x1="450.56" y1="236.30" x2="450.56" y2="416.40" stroke="#ececec" stroke-width="0.7"/>
<line x1="473.05" y1="236.30" x2="473.05" y2="416.40" stroke="#ececec" stroke-width="0.7"/>
<line x1="495.53" y1="236.30" x2="495.53" y2="416.40" stroke="#ececec" stroke-width="0.7"/>
<line x1="518.01" y1="236.30" x2="518.01" y2="416.40" stroke="#ececec" stroke-width="0.7"/>
<line x1="315.65" y1="390.24" x2="540.50" y2="390.24" stroke="#ececec" stroke-width="0.7"/>
<line x1="315.65" y1="364.59" x2="540.50" y2="364.59" stroke="#ececec" stroke-width="0.7"/>
<line x1="315.65" y1="338.93" x2="540.50" y2="338.93" stroke="#ececec" stroke-width="0.7"/>
<line x1="315.65" y1="313.27" x2="540.50" y2="313.27" stroke="#ececec" stroke-width="0.7"/>
<line x1="315.65" y1="287.61" x2="540.50" y2="287.61" stroke="#ececec" stroke-width="0.7"/>
<line x1="315.65" y1="261.96" x2="540.50" y2="261.96" stroke="#ececec" stroke-width="0.7"/>
<rect x="315.65" y="236.30" width="224.85" height="180.10" fill="none" stroke="#606060" stroke-width="0.75"/>
<text class="t" x="315.35" y="426.10" transform="rotate(0.05 315.35 426.10)" text-anchor="middle">4.9</text>
<line x1="338.13" y1="416.40" x2="338.13" y2="413.90" stroke="#606060" stroke-width="0.7"/>
<line x1="338.13" y1="236.30" x2="338.13" y2="238.80" stroke="#606060" stroke-width="0.7"/>
<text class="t" x="337.83" y="426.10" transform="rotate(0.05 337.83 426.10)" text-anchor="middle">4.92</text>
<line x1="360.62" y1="416.40" x2="360.62" y2="413.90" stroke="#606060" stroke-width="0.7"/>
<line x1="360.62" y1="236.30" x2="360.62" y2="238.80" stroke="#606060" stroke-width="0.7"/>
<text class="t" x="360.32" y="426.10" transform="rotate(0.05 360.32 426.10)" text-anchor="middle">4.94</text>
<line x1="383.11" y1="416.40" x2="383.11" y2="413.90" stroke="#606060" stroke-width="0.7"/>
<line x1="383.11" y1="236.30" x2="383.11" y2="238.80" stroke="#606060" stroke-width="0.7"/>
<text class="t" x="382.81" y="426.10" transform="rotate(0.05 382.81 426.10)" text-anchor="middle">4.96</text>
<line x1="405.59" y1="416.40" x2="405.59" y2="413.90" stroke="#606060" stroke-width="0.7"/>
<line x1="405.59" y1="236.30" x2="405.59" y2="238.80" stroke="#606060" stroke-width="0.7"/>
<text class="t" x="405.29" y="426.10" transform="rotate(0.05 405.29 426.10)" text-anchor="middle">4.98</text>
<line x1="428.07" y1="416.40" x2="428.07" y2="413.90" stroke="#606060" stroke-width="0.7"/>
<line x1="428.07" y1="236.30" x2="428.07" y2="238.80" stroke="#606060" stroke-width="0.7"/>
<text class="t" x="427.77" y="426.10" transform="rotate(0.05 427.77 426.10)" text-anchor="middle">5</text>
<line x1="450.56" y1="416.40" x2="450.56" y2="413.90" stroke="#606060" stroke-width="0.7"/>
<line x1="450.56" y1="236.30" x2="450.56" y2="238.80" stroke="#606060" stroke-width="0.7"/>
<text class="t" x="450.26" y="426.10" transform="rotate(0.05 450.26 426.10)" text-anchor="middle">5.02</text>
<line x1="473.05" y1="416.40" x2="473.05" y2="413.90" stroke="#606060" stroke-width="0.7"/>
<line x1="473.05" y1="236.30" x2="473.05" y2="238.80" stroke="#606060" stroke-width="0.7"/>
<text class="t" x="472.75" y="426.10" transform="rotate(0.05 472.75 426.10)" text-anchor="middle">5.04</text>
<line x1="495.53" y1="416.40" x2="495.53" y2="413.90" stroke="#606060" stroke-width="0.7"/>
<line x1="495.53" y1="236.30" x2="495.53" y2="238.80" stroke="#606060" stroke-width="0.7"/>
<text class="t" x="495.23" y="426.10" transform="rotate(0.05 495.23 426.10)" text-anchor="middle">5.06</text>
<line x1="518.01" y1="416.40" x2="518.01" y2="413.90" stroke="#606060" stroke-width="0.7"/>
<line x1="518.01" y1="236.30" x2="518.01" y2="238.80" stroke="#606060" stroke-width="0.7"/>
<text class="t" x="517.72" y="426.10" transform="rotate(0.05 517.72 426.10)" text-anchor="middle">5.08</text>
<text class="t" x="540.20" y="426.10" transform="rotate(0.05 540.20 426.10)" text-anchor="middle">5.1</text>
<text class="t" x="312.40" y="419.15" transform="rotate(0.05 312.40 419.15)" text-anchor="end">0</text>
<line x1="315.65" y1="390.24" x2="318.15" y2="390.24" stroke="#606060" stroke-width="0.7"/>
<line x1="540.50" y1="390.24" x2="538.00" y2="390.24" stroke="#606060" stroke-width="0.7"/>
<text class="t" x="312.40" y="392.99" transform="rotate(0.05 312.40 392.99)" text-anchor="end">0.1</text>
<line x1="315.65" y1="364.59" x2="318.15" y2="364.59" stroke="#606060" stroke-width="0.7"/>
<line x1="540.50" y1="364.59" x2="538.00" y2="364.59" stroke="#606060" stroke-width="0.7"/>
<text class="t" x="312.40" y="367.34" transform="rotate(0.05 312.40 367.34)" text-anchor="end">0.2</text>
<line x1="315.65" y1="338.93" x2="318.15" y2="338.93" stroke="#606060" stroke-width="0.7"/>
<line x1="540.50" y1="338.93" x2="538.00" y2="338.93" stroke="#606060" stroke-width="0.7"/>
<text class="t" x="312.40" y="341.68" transform="rotate(0.05 312.40 341.68)" text-anchor="end">0.3</text>
<line x1="315.65" y1="313.27" x2="318.15" y2="313.27" stroke="#606060" stroke-width="0.7"/>
<line x1="540.50" y1="313.27" x2="538.00" y2="313.27" stroke="#606060" stroke-width="0.7"/>
<text class="t" x="312.40" y="316.02" transform="rotate(0.05 312.40 316.02)" text-anchor="end">0.4</text>
<line x1="315.65" y1="287.61" x2="318.15" y2="287.61" stroke="#606060" stroke-width="0.7"/>
<line x1="540.50" y1="287.61" x2="538.00" y2="287.61" stroke="#606060" stroke-width="0.7"/>
<text class="t" x="312.40" y="290.36" transform="rotate(0.05 312.40 290.36)" text-anchor="end">0.5</text>
<line x1="315.65" y1="261.96" x2="318.15" y2="261.96" stroke="#606060" stroke-width="0.7"/>
<line x1="540.50" y1="261.96" x2="538.00" y2="261.96" stroke="#606060" stroke-width="0.7"/>
<text class="t" x="312.40" y="264.71" transform="rotate(0.05 312.40 264.71)" text-anchor="end">0.6</text>
<text class="t" x="312.40" y="239.05" transform="rotate(0.05 312.40 239.05)" text-anchor="end">0.7</text>
<polyline fill="none" stroke="#0d6cc0" stroke-width="0.50" stroke-linejoin="round" points="315.65,414.21 315.82,413.33 316.00,414.54 316.17,411.05 316.34,414.85 316.52,413.75 316.69,415.57 316.86,412.92 317.03,413.59 317.21,415.04 317.38,411.78 317.55,411.67 317.73,413.24 317.90,410.51 318.07,414.69 318.25,413.03 318.42,409.61 318.59,410.41 318.77,412.49 318.94,412.82 319.11,413.75 319.28,411.98 319.46,413.33 319.63,412.90 319.80,408.91 319.98,412.27 320.15,406.72 320.32,410.59 320.50,410.46 320.67,413.74 320.84,415.27 321.02,412.12 321.19,414.63 321.36,410.84 321.54,414.96 321.71,412.42 321.88,409.11 322.05,411.91 322.23,414.85 322.40,411.98 322.57,414.99 322.75,413.30 322.92,410.27 323.09,414.87 323.27,413.55 323.44,410.68 323.61,413.53 323.79,411.51 323.96,415.37 324.13,409.43 324.30,410.96 324.48,412.19 324.65,414.48 324.82,413.41 325.00,415.96 325.17,407.22 325.34,413.18 325.52,411.09 325.69,412.90 325.86,412.71 326.04,407.55 326.21,413.69 326.38,414.50 326.55,415.47 326.73,413.16 326.90,413.18 327.07,410.94 327.25,416.20 327.42,412.50 327.59,408.46 327.77,410.69 327.94,413.29 328.11,410.73 328.29,412.66 328.46,412.31 328.63,413.77 328.81,411.78 328.98,413.51 329.15,410.99 329.32,415.00 329.50,413.03 329.67,413.54 329.84,411.20 330.02,415.22 330.19,414.18 330.36,408.17 330.54,415.61 330.71,412.93 330.88,412.12 331.06,413.98 331.23,413.18 331.40,410.78 331.57,413.96 331.75,414.41 331.92,410.76 332.09,413.03 332.27,414.77 332.44,413.61 332.61,414.55 332.79,412.83 332.96,412.40 333.13,409.20 333.31,411.56 333.48,411.40 333.65,409.75 333.82,412.38 334.00,413.45 334.17,415.39 334.34,412.47 334.52,414.51 334.69,408.16 334.86,411.52 335.04,413.10 335.21,412.58 335.38,411.79 335.56,411.95 335.73,410.01 335.90,414.32 336.08,412.74 336.25,415.26 336.42,413.34 336.59,408.77 336.77,413.20 336.94,413.90 337.11,412.35 337.29,412.86 337.46,412.06 337.63,410.90 337.81,415.17 337.98,411.12 338.15,409.52 338.33,413.31 338.50,412.25 338.67,412.30 338.84,410.48 339.02,410.64 339.19,413.29 339.36,411.82 339.54,413.60 339.71,414.50 339.88,413.53 340.06,414.29 340.23,415.49 340.40,415.12 340.58,413.09 340.75,414.25 340.92,413.17 341.09,412.23 341.27,409.91 341.44,408.77 341.61,413.78 341.79,412.99 341.96,413.29 342.13,408.96 342.31,409.38 342.48,414.99 342.65,407.53 342.83,415.38 343.00,411.37 343.17,413.56 343.35,415.15 343.52,410.92 343.69,412.43 343.86,412.68 344.04,413.77 344.21,414.12 344.38,412.41 344.56,412.89 344.73,413.70 344.90,413.21 345.08,413.69 345.25,412.34 345.42,405.59 345.60,410.58 345.77,408.61 345.94,414.20 346.11,405.45 346.29,414.25 346.46,412.64 346.63,410.49 346.81,413.31 346.98,410.29 347.15,415.73 347.33,415.35 347.50,414.89 347.67,414.88 347.85,412.88 348.02,413.82 348.19,409.05 348.36,411.63 348.54,414.13 348.71,412.39 348.88,408.63 349.06,412.91 349.23,410.14 349.40,411.04 349.58,412.63 349.75,411.06 349.92,410.52 350.10,411.73 350.27,414.04 350.44,412.16 350.62,408.33 350.79,408.24 350.96,409.88 351.13,413.15 351.31,412.52 351.48,406.02 351.65,414.66 351.83,412.56 352.00,406.86 352.17,413.46 352.35,413.66 352.52,411.99 352.69,413.03 352.87,411.23 353.04,409.32 353.21,411.71 353.38,410.47 353.56,414.48 353.73,410.07 353.90,413.27 354.08,413.80 354.25,408.34 354.42,413.76 354.60,406.88 354.77,405.79 354.94,410.89 355.12,413.63 355.29,409.16 355.46,410.27 355.63,406.98 355.81,406.40 355.98,407.57 356.15,414.44 356.33,411.37 356.50,415.12 356.67,407.92 356.85,413.85 357.02,409.40 357.19,411.43 357.37,414.04 357.54,411.15 357.71,408.45 357.89,408.61 358.06,410.87 358.23,413.13 358.40,412.46 358.58,413.10 358.75,407.31 358.92,413.00 359.10,405.73 359.27,413.33 359.44,409.39 359.62,412.23 359.79,410.51 359.96,415.48 360.14,414.09 360.31,410.49 360.48,413.16 360.65,411.35 360.83,414.65 361.00,410.29 361.17,407.96 361.35,410.42 361.52,407.93 361.69,415.37 361.87,412.25 362.04,414.07 362.21,409.21 362.39,408.30 362.56,411.16 362.73,414.62 362.90,406.44 363.08,411.62 363.25,414.22 363.42,409.53 363.60,411.39 363.77,410.69 363.94,411.33 364.12,408.04 364.29,406.94 364.46,412.11 364.64,407.06 364.81,412.38 364.98,406.24 365.16,403.03 365.33,409.57 365.50,408.81 365.67,401.59 365.85,408.97 366.02,406.42 366.19,400.96 366.37,413.91 366.54,407.26 366.71,413.69 366.89,414.81 367.06,408.29 367.23,409.57 367.41,406.03 367.58,407.83 367.75,410.60 367.92,409.71 368.10,404.20 368.27,409.47 368.44,412.79 368.62,405.71 368.79,405.33 368.96,407.70 369.14,412.64 369.31,414.59 369.48,408.60 369.66,408.21 369.83,413.17 370.00,415.26 370.17,414.77 370.35,407.17 370.52,413.47 370.69,400.92 370.87,412.57 371.04,409.44 371.21,403.03 371.39,409.31 371.56,406.26 371.73,413.96 371.91,410.53 372.08,411.04 372.25,411.08 372.43,411.22 372.60,412.99 372.77,406.21 372.94,409.90 373.12,407.34 373.29,408.17 373.46,412.68 373.64,410.74 373.81,408.96 373.98,415.24 374.16,407.56 374.33,399.66 374.50,409.03 374.68,411.76 374.85,411.70 375.02,406.45 375.19,414.62 375.37,408.23 375.54,404.46 375.71,408.86 375.89,412.77 376.06,408.77 376.23,412.39 376.41,412.52 376.58,410.84 376.75,411.25 376.93,410.15 377.10,415.60 377.27,414.03 377.44,411.87 377.62,408.16 377.79,410.53 377.96,408.80 378.14,405.28 378.31,406.39 378.48,410.88 378.66,410.84 378.83,403.37 379.00,415.59 379.18,408.76 379.35,410.57 379.52,405.06 379.70,415.85 379.87,410.22 380.04,407.40 380.21,410.09 380.39,414.36 380.56,409.69 380.73,408.61 380.91,408.71 381.08,407.06 381.25,405.32 381.43,410.03 381.60,407.04 381.77,413.26 381.95,407.75 382.12,412.86 382.29,410.30 382.46,413.53 382.64,405.52 382.81,412.23 382.98,413.99 383.16,410.54 383.33,405.67 383.50,407.89 383.68,409.29 383.85,407.04 384.02,411.48 384.20,403.55 384.37,406.07 384.54,409.82 384.71,414.11 384.89,402.98 385.06,408.86 385.23,401.48 385.41,407.41 385.58,410.60 385.75,404.41 385.93,406.96 386.10,411.21 386.27,406.97 386.45,408.38 386.62,408.41 386.79,413.43 386.97,406.06 387.14,408.17 387.31,410.66 387.48,404.89 387.66,405.97 387.83,407.93 388.00,410.77 388.18,408.68 388.35,413.38 388.52,407.48 388.70,405.33 388.87,408.98 389.04,411.39 389.22,412.12 389.39,407.59 389.56,404.77 389.73,413.29 389.91,410.40 390.08,401.61 390.25,410.24 390.43,406.41 390.60,409.80 390.77,410.32 390.95,408.66 391.12,409.43 391.29,411.05 391.47,402.91 391.64,410.63 391.81,410.39 391.98,406.77 392.16,413.00 392.33,411.51 392.50,411.94 392.68,408.18 392.85,408.26 393.02,402.75 393.20,412.51 393.37,413.16 393.54,411.38 393.72,416.29 393.89,411.28 394.06,412.84 394.23,414.92 394.41,398.02 394.58,411.05 394.75,403.75 394.93,408.74 395.10,410.70 395.27,412.56 395.45,408.70 395.62,402.08 395.79,399.21 395.97,404.46 396.14,407.05 396.31,412.58 396.49,409.01 396.66,403.10 396.83,410.37 397.00,413.25 397.18,414.36 397.35,405.40 397.52,406.96 397.70,403.62 397.87,412.34 398.04,412.79 398.22,403.36 398.39,405.44 398.56,413.29 398.74,409.50 398.91,414.50 399.08,408.86 399.25,407.96 399.43,413.91 399.60,405.66 399.77,402.18 399.95,409.69 400.12,412.62 400.29,414.60 400.47,405.46 400.64,411.83 400.81,410.08 400.99,410.08 401.16,404.00 401.33,410.21 401.50,411.67 401.68,413.66 401.85,406.19 402.02,409.23 402.20,413.84 402.37,410.37 402.54,400.10 402.72,406.38 402.89,411.21 403.06,411.33 403.24,413.07 403.41,413.87 403.58,407.64 403.76,400.00 403.93,409.06 404.10,399.34 404.27,412.62 404.45,405.30 404.62,407.40 404.79,404.97 404.97,396.02 405.14,400.94 405.31,413.10 405.49,405.20 405.66,405.97 405.83,410.68 406.01,406.74 406.18,407.11 406.35,403.98 406.52,409.25 406.70,414.40 406.87,409.60 407.04,409.37 407.22,405.02 407.39,404.79 407.56,411.02 407.74,410.26 407.91,403.09 408.08,405.23 408.26,399.32 408.43,407.06 408.60,401.60 408.77,406.06 408.95,415.30 409.12,396.08 409.29,407.93 409.47,409.25 409.64,411.42 409.81,401.54 409.99,408.26 410.16,408.51 410.33,412.89 410.51,410.00 410.68,411.38 410.85,412.36 411.03,408.86 411.20,412.20 411.37,411.35 411.54,403.98 411.72,413.13 411.89,402.81 412.06,400.54 412.24,409.16 412.41,401.03 412.58,410.77 412.76,403.35 412.93,407.95 413.10,406.71 413.28,409.55 413.45,403.81 413.62,409.45 413.79,400.14 413.97,406.95 414.14,412.54 414.31,409.74 414.49,416.13 414.66,409.23 414.83,401.51 415.01,400.19 415.18,403.36 415.35,410.59 415.53,408.83 415.70,396.06 415.87,387.36 416.04,408.41 416.22,410.99 416.39,405.31 416.56,404.63 416.74,414.37 416.91,412.78 417.08,408.92 417.26,403.37 417.43,408.17 417.60,414.59 417.78,408.61 417.95,406.33 418.12,403.33 418.30,404.00 418.47,391.94 418.64,399.86 418.81,408.95 418.99,403.31 419.16,413.91 419.33,401.39 419.51,401.63 419.68,407.23 419.85,406.08 420.03,398.72 420.20,401.17 420.37,405.62 420.55,409.94 420.72,412.59 420.89,408.20 421.06,411.19 421.24,398.19 421.41,410.99 421.58,411.98 421.76,405.77 421.93,416.06 422.10,415.45 422.28,408.79 422.45,410.44 422.62,414.34 422.80,398.21 422.97,405.77 423.14,403.60 423.31,413.03 423.49,410.39 423.66,411.62 423.83,409.30 424.01,408.33 424.18,403.39 424.35,408.03 424.53,409.54 424.70,406.24 424.87,410.79 425.05,398.64 425.22,411.64 425.39,410.41 425.57,402.71 425.74,402.11 425.91,413.32 426.08,411.97 426.26,408.65 426.43,408.82 426.60,410.76 426.78,398.80 426.95,403.90 427.12,408.08 427.30,409.15 427.47,402.28 427.64,411.70 427.82,409.34 427.99,410.62 428.16,410.62 428.33,406.72 428.51,406.69 428.68,410.32 428.85,410.95 429.03,415.01 429.20,405.65 429.37,403.02 429.55,409.62 429.72,409.85 429.89,401.42 430.07,406.87 430.24,404.07 430.41,404.18 430.58,405.18 430.76,410.04 430.93,404.77 431.10,403.12 431.28,404.82 431.45,411.22 431.62,405.76 431.80,408.74 431.97,402.71 432.14,400.87 432.32,406.77 432.49,408.55 432.66,405.72 432.84,412.50 433.01,402.76 433.18,405.51 433.35,407.16 433.53,411.30 433.70,414.43 433.87,414.38 434.05,410.26 434.22,412.24 434.39,403.21 434.57,405.47 434.74,407.98 434.91,410.15 435.09,400.99 435.26,398.64 435.43,407.18 435.60,399.52 435.78,403.69 435.95,407.73 436.12,402.76 436.30,405.80 436.47,402.34 436.64,393.91 436.82,399.59 436.99,411.76 437.16,412.98 437.34,410.90 437.51,411.88 437.68,410.85 437.85,398.16 438.03,399.78 438.20,413.18 438.37,407.17 438.55,404.60 438.72,409.26 438.89,399.91 439.07,413.29 439.24,409.05 439.41,402.40 439.59,409.68 439.76,405.26 439.93,399.28 440.11,411.80 440.28,409.60 440.45,405.47 440.62,401.71 440.80,405.54 440.97,405.52 441.14,408.18 441.32,404.90 441.49,407.84 441.66,414.28 441.84,408.16 442.01,404.82 442.18,401.05 442.36,408.15 442.53,406.38 442.70,411.00 442.87,407.57 443.05,406.04 443.22,410.40 443.39,412.92 443.57,414.54 443.74,408.93 443.91,397.38 444.09,408.26 444.26,412.09 444.43,411.59 444.61,405.89 444.78,414.68 444.95,399.42 445.12,409.21 445.30,404.75 445.47,400.94 445.64,405.02 445.82,402.96 445.99,405.16 446.16,414.75 446.34,415.52 446.51,406.21 446.68,408.84 446.86,411.33 447.03,408.49 447.20,412.40 447.38,410.30 447.55,412.00 447.72,414.19 447.89,412.64 448.07,413.98 448.24,409.60 448.41,400.85 448.59,408.74 448.76,407.71 448.93,410.82 449.11,410.92 449.28,411.70 449.45,413.14 449.63,402.40 449.80,408.58 449.97,406.50 450.14,409.49 450.32,403.95 450.49,403.07 450.66,410.03 450.84,413.15 451.01,398.27 451.18,411.64 451.36,411.76 451.53,411.37 451.70,411.73 451.88,402.97 452.05,409.63 452.22,409.90 452.39,410.59 452.57,403.37 452.74,410.61 452.91,404.73 453.09,403.43 453.26,407.56 453.43,412.36 453.61,410.59 453.78,405.80 453.95,402.45 454.13,406.44 454.30,412.11 454.47,407.82 454.65,408.47 454.82,411.75 454.99,404.94 455.16,406.84 455.34,406.60 455.51,407.55 455.68,411.30 455.86,414.18 456.03,413.60 456.20,411.01 456.38,397.89 456.55,407.41 456.72,414.18 456.90,406.09 457.07,407.93 457.24,411.05 457.41,407.98 457.59,410.96 457.76,415.09 457.93,404.45 458.11,410.05 458.28,410.49 458.45,396.63 458.63,402.64 458.80,413.21 458.97,411.53 459.15,406.58 459.32,407.51 459.49,399.21 459.66,404.63 459.84,407.99 460.01,409.90 460.18,401.72 460.36,414.33 460.53,402.07 460.70,408.82 460.88,408.82 461.05,412.82 461.22,408.05 461.40,415.00 461.57,404.78 461.74,405.82 461.92,408.69 462.09,411.30 462.26,411.47 462.43,413.48 462.61,411.58 462.78,409.49 462.95,409.83 463.13,414.07 463.30,405.49 463.47,401.63 463.65,409.02 463.82,401.22 463.99,410.84 464.17,407.40 464.34,412.01 464.51,405.15 464.68,406.00 464.86,411.93 465.03,408.41 465.20,411.26 465.38,402.97 465.55,410.23 465.72,412.49 465.90,403.41 466.07,411.12 466.24,414.50 466.42,407.67 466.59,412.32 466.76,407.11 466.93,413.70 467.11,412.98 467.28,404.96 467.45,410.43 467.63,405.44 467.80,407.11 467.97,413.71 468.15,408.44 468.32,411.30 468.49,406.47 468.67,411.84 468.84,409.28 469.01,413.59 469.18,408.69 469.36,410.65 469.53,404.64 469.70,405.64 469.88,413.09 470.05,410.01 470.22,412.86 470.40,406.31 470.57,406.75 470.74,406.88 470.92,407.30 471.09,408.51 471.26,409.91 471.44,412.98 471.61,404.80 471.78,400.18 471.95,407.94 472.13,409.66 472.30,410.12 472.47,410.86 472.65,415.17 472.82,409.99 472.99,410.68 473.17,407.18 473.34,408.58 473.51,408.48 473.69,407.07 473.86,408.45 474.03,406.47 474.20,408.84 474.38,410.32 474.55,411.97 474.72,413.09 474.90,411.06 475.07,406.46 475.24,401.24 475.42,410.03 475.59,411.62 475.76,412.68 475.94,407.10 476.11,411.82 476.28,406.63 476.45,406.47 476.63,407.29 476.80,404.99 476.97,407.25 477.15,412.32 477.32,414.14 477.49,407.90 477.67,413.54 477.84,413.69 478.01,409.06 478.19,411.94 478.36,413.97 478.53,410.30 478.71,410.91 478.88,405.44 479.05,414.21 479.22,411.27 479.40,410.40 479.57,411.32 479.74,410.66 479.92,410.73 480.09,409.38 480.26,405.42 480.44,406.77 480.61,408.01 480.78,412.77 480.96,413.50 481.13,408.80 481.30,406.90 481.47,406.92 481.65,412.26 481.82,410.11 481.99,411.43 482.17,410.82 482.34,408.93 482.51,406.55 482.69,414.88 482.86,414.21 483.03,409.55 483.21,413.45 483.38,412.45 483.55,408.91 483.72,406.73 483.90,414.64 484.07,408.70 484.24,413.43 484.42,411.81 484.59,408.92 484.76,412.14 484.94,415.15 485.11,410.03 485.28,399.77 485.46,402.52 485.63,413.17 485.80,414.56 485.98,410.59 486.15,412.56 486.32,409.50 486.49,414.83 486.67,408.59 486.84,409.80 487.01,401.10 487.19,411.65 487.36,409.39 487.53,407.89 487.71,413.51 487.88,413.09 488.05,402.70 488.23,414.13 488.40,412.01 488.57,411.26 488.74,410.30 488.92,410.63 489.09,410.71 489.26,413.59 489.44,407.70 489.61,409.69 489.78,414.63 489.96,409.30 490.13,407.94 490.30,412.16 490.48,407.02 490.65,411.98 490.82,412.99 490.99,406.46 491.17,413.43 491.34,415.00 491.51,412.16 491.69,411.61 491.86,408.30 492.03,414.94 492.21,413.24 492.38,412.12 492.55,415.54 492.73,409.81 492.90,409.49 493.07,404.44 493.25,405.96 493.42,412.20 493.59,405.06 493.76,411.20 493.94,412.25 494.11,408.67 494.28,415.03 494.46,403.98 494.63,408.07 494.80,414.14 494.98,411.72 495.15,412.93 495.32,410.87 495.50,415.10 495.67,411.67 495.84,412.36 496.01,406.92 496.19,406.28 496.36,413.72 496.53,410.36 496.71,411.91 496.88,400.68 497.05,412.28 497.23,409.08 497.40,409.82 497.57,414.92 497.75,409.89 497.92,409.41 498.09,414.97 498.26,410.72 498.44,409.80 498.61,413.04 498.78,413.17 498.96,409.51 499.13,412.60 499.30,410.36 499.48,412.04 499.65,410.79 499.82,412.64 500.00,411.76 500.17,411.64 500.34,414.71 500.52,406.56 500.69,415.44 500.86,413.87 501.03,412.83 501.21,414.88 501.38,411.71 501.55,414.38 501.73,411.16 501.90,415.09 502.07,412.59 502.25,413.59 502.42,412.65 502.59,412.21 502.77,412.99 502.94,406.91 503.11,415.91 503.28,411.50 503.46,409.06 503.63,413.42 503.80,410.74 503.98,410.89 504.15,408.71 504.32,412.67 504.50,413.03 504.67,413.39 504.84,411.60 505.02,410.51 505.19,414.77 505.36,412.93 505.53,410.49 505.71,412.71 505.88,412.22 506.05,413.26 506.23,407.12 506.40,413.88 506.57,412.20 506.75,414.88 506.92,415.19 507.09,406.65 507.27,415.47 507.44,412.15 507.61,410.37 507.79,409.02 507.96,409.21 508.13,410.76 508.30,411.41 508.48,413.14 508.65,408.30 508.82,408.41 509.00,407.12 509.17,413.42 509.34,409.78 509.52,413.21 509.69,412.60 509.86,414.02 510.04,413.52 510.21,410.40 510.38,403.66 510.55,413.44 510.73,409.71 510.90,410.84 511.07,412.46 511.25,410.04 511.42,415.20 511.59,412.98 511.77,408.05 511.94,408.58 512.11,414.08 512.29,412.46 512.46,413.70 512.63,411.65 512.80,411.22 512.98,414.51 513.15,412.56 513.32,414.45 513.50,410.97 513.67,409.28 513.84,411.41 514.02,410.57 514.19,410.23 514.36,413.84 514.54,408.82 514.71,409.85 514.88,411.49 515.06,411.15 515.23,414.70 515.40,412.23 515.57,410.45 515.75,409.96 515.92,413.45 516.09,413.83 516.27,414.98 516.44,412.67 516.61,413.14 516.79,414.86 516.96,413.27 517.13,410.52 517.31,411.54 517.48,405.58 517.65,411.85 517.82,412.68 518.00,414.83 518.17,411.74 518.34,412.56 518.52,413.02 518.69,410.72 518.86,410.33 519.04,410.24 519.21,413.37 519.38,412.59 519.56,408.12 519.73,413.45 519.90,413.11 520.07,413.43 520.25,413.01 520.42,408.38 520.59,411.44 520.77,412.56 520.94,412.17 521.11,414.53 521.29,408.33 521.46,414.89 521.63,410.29 521.81,411.06 521.98,415.13 522.15,412.34 522.33,412.55 522.50,414.50 522.67,411.81 522.84,413.11 523.02,410.50 523.19,411.73 523.36,411.59 523.54,410.61 523.71,414.39 523.88,409.54 524.06,414.69 524.23,413.31 524.40,408.01 524.58,411.08 524.75,406.94 524.92,412.52 525.09,411.86 525.27,415.85 525.44,410.65 525.61,413.57 525.79,411.29 525.96,413.75 526.13,410.67 526.31,404.89 526.48,412.58 526.65,415.77 526.83,411.91 527.00,412.95 527.17,414.41 527.34,412.84 527.52,412.29 527.69,415.62 527.86,409.38 528.04,412.20 528.21,414.15 528.38,411.56 528.56,414.34 528.73,414.20 528.90,410.59 529.08,410.83 529.25,411.27 529.42,412.72 529.60,411.02 529.77,413.70 529.94,411.65 530.11,410.64 530.29,416.03 530.46,412.28 530.63,414.16 530.81,414.19 530.98,413.87 531.15,413.90 531.33,413.51 531.50,413.39 531.67,414.27 531.85,412.15 532.02,412.40 532.19,412.02 532.36,413.28 532.54,408.22 532.71,410.67 532.88,413.51 533.06,414.94 533.23,412.55 533.40,415.09 533.58,410.30 533.75,415.04 533.92,414.29 534.10,413.73 534.27,413.26 534.44,412.75 534.61,412.62 534.79,413.37 534.96,413.27 535.13,413.24 535.31,415.51 535.48,415.09 535.65,414.42 535.83,413.08 536.00,414.17 536.17,413.18 536.35,413.23 536.52,413.92 536.69,409.23 536.87,409.39 537.04,411.62 537.21,412.20 537.38,410.70 537.56,415.73 537.73,411.52 537.90,413.82 538.08,412.85 538.25,414.35 538.42,414.58 538.60,410.84 538.77,410.79 538.94,414.15 539.12,412.43 539.29,413.05 539.46,410.90 539.63,408.95 539.81,412.03 539.98,412.61 540.15,411.89 540.33,413.58 540.50,409.69"/>
<defs><linearGradient id="gd" gradientUnits="userSpaceOnUse" x1="0" y1="240.15" x2="0" y2="415.90"><stop offset="0" stop-color="#b9daf3"/><stop offset="0.5" stop-color="#8fc0ea"/><stop offset="1" stop-color="#4f98d6"/></linearGradient></defs>
<rect x="427.02" y="240.15" width="1.70" height="174.75" fill="url(#gd)"/>
<text class="t l" x="428.07" y="435.90" transform="rotate(0.05 428.07 435.90)" text-anchor="middle">Cyclic Frequency-α(Hz)</text>
<text class="t" x="540.20" y="437.20" transform="rotate(0.05 540.20 437.20)" text-anchor="end"><tspan font-size="7.9" dy="0.3">×</tspan><tspan dx="0.6" dy="-0.3">10</tspan><tspan dy="-2.6" font-size="5.2">6</tspan></text>
<text class="t l" transform="translate(296.40,326.10) rotate(-90)" text-anchor="middle">amplitude -|C<tspan dy="2.3" font-size="5.4">40</tspan><tspan dy="-2.5">|</tspan></text>
<text class="c" x="418.30" y="455.60" transform="rotate(0.05 418.30 455.60)" text-anchor="middle">(<tspan font-weight="bold" dx="0.35" font-size="14.6">d</tspan><tspan dx="0.35">)</tspan></text>
</g>
</svg>
</body></html>
